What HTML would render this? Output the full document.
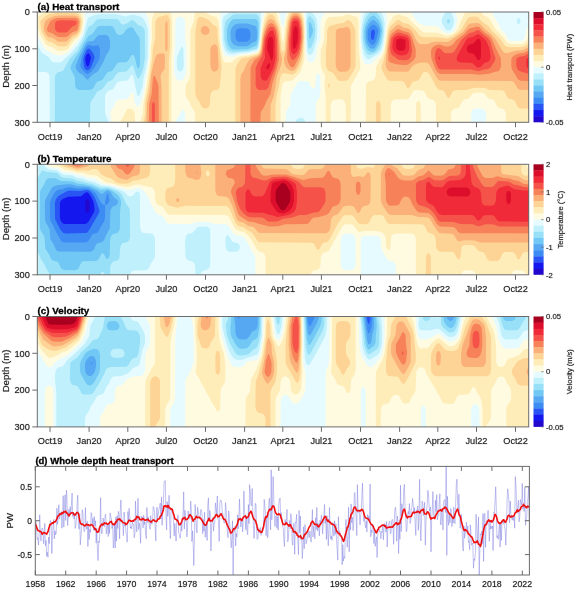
<!DOCTYPE html><html><head><meta charset="utf-8"><style>html,body{margin:0;padding:0;background:#fff;}svg{display:block;will-change:transform}</style></head><body><svg width="575" height="590" viewBox="0 0 575 590" font-family='"Liberation Sans", sans-serif'><rect width="575" height="590" fill="#fff"/><defs><clipPath id="clip_a"><rect x="37.3" y="12.0" width="491.4" height="110.3"/></clipPath><clipPath id="clip_b"><rect x="37.3" y="164.3" width="491.4" height="110.5"/></clipPath><clipPath id="clip_c"><rect x="37.3" y="316.5" width="491.4" height="110.4"/></clipPath></defs><g clip-path="url(#clip_a)"><rect x="37.3" y="12.0" width="491.4" height="110.3" fill="#FFFBE0"/><path fill="#E6FBFF" fill-rule="evenodd" d="M85 11l60 0 3.3 7.7 1.7 10.3 .1 9-.7 19-5.1 32.5-2 8.7-2 5.3-1 2.1-1 1-1-.1-1-.9-1.4-2.6-1.6-8.2-1-2-1 0-2.2 4.2-1.8 1.8-2 .5-6 .1-2 .7-1.5 1.9-1.6 4-2.9 4.2-.8 1.8-.1 2 1.1 9-75.2 0 0-88.6 4 6.3 3.3 6.3 2.7 3.1 8 4.5 3 .9 4 0 5-1.9 3.2-2.6 3.8-5.1 5-5.6 3.3-5.3 1.7-5 1.5-8 .2-11zM220.3 11l43.9 0-2.6 15-2 21-.5 2-1.2 2-1.6 1-7 1.7-8 .8-9 2.2-5-.4-2-.7-1-1-1.6-4.6-1.6-10-.8-29zM279.1 11l7.7 0-3.5 15.3-1-.2-1-2.6-2.2-12.5zM304.3 11l21.5 0-4 7-1 3-.4 18-3.1 9-1.8 10-1.4 3-.8 .8-2 .7-2-.3-1-.8-1-2-1.2-5.4-.5-6-.1-20-1.2-17zM360.7 11l25.1 0 .7 4 .4 6-2.6 22.2-1.2 6.8-.8 2-2 2.7-4.8 4.3-3.2 4.1-3 1.4-3-.2-2-1.2-1.6-3.1-1.2-5-1.4-16 .6-28zM410.7 11l45.3 0 1.2 9-1.9 8.1-1 2-2 1.8-3 1.3-2 .1-5.1-2.3-4.9-4.9-12-.4-2-.4-4-1.8-2.1-1.5-5.1-8-1.4-3zM491 11l38.3 0 0 15-1.5 1-1.1 2-2 9-1.1 2-2.3 .9-4 0-6 0-2.7-.9-3.1-6-4-4-10.5-19zM178.2 17l2.1-.3 2 .3 2 2 .7 2 .2 17 1.3 11 0 18-.8 7-1 3-1.4 2.2-1 1-2 .6-3-.8-1.4-2-1.2-4-.7-7 .1-10 1.1-10 .2-25 .9-3.3 1.9-1.7zM317 74l1.3-.3 1 .9 1 2.4 .2 16-.8 4-2.8 4-1.1 3-.2 19-30.1 0 .3-10 .6-2 3.7-6 .8-11 5.7-10 1.7-2.2 1-.6 3-.3 5 .3 2 1.5 2.6 5.3 1.4 .7 1-.7 1-2 .5-9 1.2-3zM473.9 109l2.4-.5 5 .1 2 .4 1 .7 1 1.5 .7 2.8 .1 9-15.1 0 .2-10 1.1-2.7 1.6-1.3zM181.2 111l1.1-.9 1 0 1.4 1.9 .5 3 0 8-9.9 0 1-3.3 3-4.3 1.9-4.4z"/><path fill="#BFF0FB" fill-rule="evenodd" d="M230 12l.6-1 29.7 0 .7 9-1.2 19-1 8-1.5 3-9 2.3-7 .5-9 1.4-4-.8-2.9-2.4-1.3-3-1.5-8-.2-19 .9-3.7 1-1.5 4-2.3 1.7-1.5zM282.9 11l.5 0-.1 .9-.4-.9zM307.1 12l.3-1 2.8 0 4.2 4 1.8 3 .9 5 .3 8-.7 9-3.4 11.8-1 1.7-2 1.3-1-.1-1-.8-1-2.5-.5-3.4-.7-27 .3-5 .7-4zM365.9 11l14.7 0 2.8 6 1.2 6-.3 11-1.2 9-1.5 6-1.3 2.2-3 3-7 4.4-2 .8-2.4-1.4-2.2-4-1.4-6.4-.9-7.6 0-10 .9-7.7 1.3-6.3 2.3-5zM446.1 11l4.7 0 3.4 9-.2 3-1.9 5-1.8 2-2 .6-1.8-.6-1.2-1.2-2.8-4.8-1.1-3 .8-3 3.9-7zM95.1 15l4.2-.7 17 0 9 2.2 6-1.8 2-.1 8 2.3 1 .5 2 2.5 2.8 6.1 1 5-.3 26-1.5 9.5-2.6 10.5-1 9-2.4 7.4-1 2-1 .9-1-.6-4-19-1-1.7-1 .1-2.4 3.9-1.6 1.5-9 1-2 2.1-3 5.3-1 .7-4 1-2.7 3.4-.6 3 0 15 .6 3 2.2 5 .7 3-58.7 0-.2-47-1.3-2.8-2-1.3-10-.2 0-27.9 2 2.3 3.6 6.9 6.4 3.7 4 5.2 3 .6 6-.3 4-4.2 4.9-4 8.1-9.4 3.8-6.6 1.7-4 3.5-14.1 1-2.2 1-.8 5.8-1.9zM517.3 19l1-.9 1 .2 1 1.2 .3 2.5-1.3 2.1-1 .1-1.2-1.2-.4-2 .6-2zM181.3 47l1-.2 1.1 2.2 .3 17-.4 2.3-1 2.2-2 1.1-2-.9-1-1.8-.5-2.9 0-7 .5-3.1 4-8.9zM298.9 118l2.4-.2 2 .7 1.3 1.5 .9 3-9.9 0 .9-3 .8-1.1 1.6-.9z"/><path fill="#98E0F8" fill-rule="evenodd" d="M371.1 11l4.3 0 4.8 6 2.3 6 .9 8-1.6 11-2.5 6.8-2 2.5-3 2.4-5 1.3-2-.9-.9-1.1-2.1-5.1-1.5-7.9-.1-9 .9-6 1.7-5.9 2-3.5 3.8-4.6zM232.6 15l2.7-.7 20 0 2 .6 1 1.1 1 2.8 .4 3.2-.5 15-.9 7.8-1 3.1-1 .9-9 2.1-14 1-3.7-.9-2.4-2-1.6-4-1.3-6 0-9 .6-6 .4-2 1.3-2 6-5zM308.2 17l1.1-.8 1 .3 3.3 3.5 1 3 .9 7-.8 7-1.4 5.5-2 4.6-1 1.4-1 .3-1-1.8-.9-8-.2-17 1-5zM99.1 19l17.2 .1 2.2 .9 2.8 3.9 2 .8 4-1.4 4-3 2-.3 5 5.2 3 .9 2 1.6 1.3 2.3 .3 2 .1 25-1.6 11-2.1 5.8-2 4.1-1 .6-1-.8-1-2.3-3-8.7-1-1.2-1 .2-3 4.1-2 1.6-8 .9-2 2-4 5.7-4 1.5-1 .7-5 7-5 2.2-3.8 6.6-2.3 3-.9 2.2-.4 19.8-35 0 0-44 .5-4 1.9-2.6 4-.8 2-1.2 6.2-11.4 7.8-8.3 6.6-11.7 4.4-11.8 1-1 3-1.4 4-4.8 2.8-1zM448.1 19l1.2 .3 .8 1.7-.7 2-1.1 .5-1-.8-.4-1.7 .4-1.3 .8-.7z"/><path fill="#72C8F4" fill-rule="evenodd" d="M371.6 16l1.7-.6 1 .2 4 3.8 2.4 4.6 1.4 6-1.3 9-1.9 6-3.2 5-1.4 1.2-2 .7-3-.6-2-2.2-2.1-5.1-1-6 .1-8 1.2-5 2.8-5.8 3.3-3.2zM234.7 19l19.6-.1 2 .4 1 .9 .9 2.8 .3 3-.1 11-.7 5-1.4 3.6-7 3-3 .6-12 .4-2-.4-2-1.3-2-3.6-1.3-4.3-.1-10 1.4-4.7 1.8-3.3 2.2-2.2 2.4-.8zM309.1 23l.2-.7 1-.1 1 1.7 1.9 6.1-.9 4.5-2 4.3-1-.4-.2-2.4-.3-6 .3-7zM99.1 26l10.2-.2 3 .5 1.7 1.7 2.3 5.2 1 1 2 .7 2-.1 1.7-.8 2.8-4 2.5-1.9 3-1 2 .8 3 5.4 2.7 3.7 .9 3 .1 23-.4 4-1.3 1.6-1-.8-2.6-10.8-1.4-2-1-.2-1 .7-3 5.1-2 1.6-7 .4-2 .7-5 7.5-5 1.7-5 7.5-4 1.2-2 1.4-2.3 4.4-1.7 2.2-3 .9-11-.2-2-1.4-1-2.1-.6-9.4-4.1-8 .1-3 3.7-7 4.9-6.9 4.7-9.1 4.3-6.9 4-2.1 5-7 1.8-1z"/><path fill="#56A8F2" fill-rule="evenodd" d="M373.1 20l2.2 .9 3 3.3 1.7 3.8 .5 3-1.2 7-1.3 4-2.7 5.1-1 1.2-2 .7-3-1.8-2.4-4.2-1-4-.1-7 .7-4 1.8-3.9 3-3.3 1.8-.8zM236.2 24l3.1-.5 8 .1 8 2.4 1 1 .9 4-.2 7-.7 2.8-1 .8-3 1.1-4 3-2 .6-8 0-4.1-1.3-1.9-2.1-1.5-2.9-.4-8 .4-2 1.5-3 2-2.1 1.9-.9zM100.7 35l5.6 .1 1.7 .9 .8 1 1.2 4 0 6-.5 3-3.2 5-2.5 6-5.5 9.8-2 1.8-4 2.2-4 4.4-1 .3-1-.5-3.5-4-3.5-2-2-1.9-1.6-3.1 0-2 3.5-9 5.1-10.6 2-3.3 2-1.5 5-.7 4-4.7 1-.7 2.4-.5z"/><path fill="#3C8CF4" fill-rule="evenodd" d="M371.9 25l1.4-.4 2.6 1.4 2.2 3 .4 2-2.2 9.6-2 3.4-1 .8-1 .2-2-1.4-1.3-1.6-1-2-.3-3 0-5 .6-2.8 1.4-2.2 2.2-2zM237.2 29l2.1-.7 6-.1 2 .2 2 1.3 1 2.3 .1 3-.1 3-1 2.1-2 1.4-2 .3-6-.1-2-.7-1.6-2-.3-3 .3-5 1.5-2zM88.3 45l5 1 4-.8 1 .5 1 1.4 .5 1.9 .1 7-.6 3-4.4 8-4.6 5.3-2 1.5-1 .1-2-.9-2.9-3-1.5-2-.6-2 1.4-9 3.7-9 1.4-2 1.5-1z"/><path fill="#2A55F5" fill-rule="evenodd" d="M372 30l1.3-.6 1 .5 .8 2.1-.9 6-.9 1.7-1 .2-1-1.1-.4-2.8 .1-4 1-2zM87.3 49l1-.5 1 .3 1.5 1.2 2.7 4 1 3-.2 2-3.2 8-1.8 2.6-2 1-2-1.3-1.4-2.3-.6-7 .7-4 2.3-5.6 1-1.4z"/><path fill="#1418EE" fill-rule="evenodd" d="M87 54l1.3-.7 1 .8 1.1 1.9 .5 2-1.6 6.3-1 1.9-1 .4-1.2-1.6-.9-6 .7-3 1.1-2z"/><path fill="#FEEDB8" fill-rule="evenodd" d="M45.1 11l34.4 0 1.8 2.4 1.4 3.6 .5 4-1.9 11-2.8 5-5.2 4.3-4.4 6.7-1.6 1.6-4 1.2-5 .1-2-.8-4-3.1-5-1.3-2-2.2-5.2-9.5-2.8-7.4-1-1.4 0-8.4 6-2.9 2.8-2.9zM155.3 11l14.7 0 1.7 6 .4 5 0 24-.7 14 .1 63-31.5 0 2.7-9 .8-11 3.2-17 3.9-27 .3-11 1.1-10-.3-18 .8-3 2.8-6zM195.2 12l.1-1 9.8 0 2.2 2.7 5 2.2 4 1.2 1 1.2 1 3.1 1 6.2 .4 12.4 2.6 17.6 1 3 1 1.3 2 .6 3 0 3-.6 2.8-2.9 3.5-2 3.7-1.1 6-.5 8-1.9 2.2-1.5 1.6-4 2.8-23 1.9-8 2.3-6 8.1 0 2.3 5 3.2 12 1.6 13.6 1 1.3 3-22.9 1.1-4 2-5 12.3 0 2.1 7 .9 11-.3 27-.4 5-2.7 9-1.6 3-7.4 7.4-8 1-1.8 2.6-1.9 12-.1 27-85.3 0 0-8-.4-3-3.5-5.5-2-4.9-3.2-4.6-.6-2-.3-4 .6-6 3.5-6 .8-3 .2-45 .8-3 2.2-5.3 1.9-10.7zM466.1 11l14.8 0 2.4 4.2 1 .8 3 .9 2 1.6 6.8 11.5 7 7 3.2 5 2 1.6 4 .6 9-.1 2-.3 3.1-2.8 2.9-5.5 0 87.5-23.2 0-.2-10-1.6-3.3-1-.7-5-1.3-1.3-1.7-2.7-5.5-1-.7-5-1.3-4-5.1-2-.8-4-.1-5 .6-1.2 .9-2.7 4-1.1 .8-4 .8-1.9 1.4-3.1 6.2-2 1.1-3 .5-1.8 1.2-1.1 2-.3 2-.1 9-15.1 0 0-17-.7-4-1.9-2.1-4-.8-1.7-1.1-2.9-6-1.4-1.3-5-.6-3 .2-2 1-3.4 5.7-1.6 1.7-2 .6-11 .1-2 .5-1 .9-1 1.9-.4 2.3-.1 18-25.1 0 .3-38 .9-2 1.4-1.5 5-1.2 1.8-2.3 .5-2 .5-9 3.6-7 2.8-4 1.8-5 3.5-25 1.5-3.2 3.6-5.8 2.4-1.7 3-.7 9 2.4 5.6 6 10.4 9.2 2 .4 12 .2 7 2.4 4 .6 5-2 3.2-2.8 1.2-2 4.1-10 4.3-8zM345.9 15l3.4-.3 7 2.1 1 .8 .7 1.4 .5 3 .2 25 1.7 20-.7 3-8.8 16-.2 37-5 0 0-17-.8-4-1.6-2-1-.4-4-.3-5 .6-1.9 2.1-.8 4 0 17-4.9 0 0-26-1.3-11 .8-9-.4-2-3.6-7-.6-4 .1-14 3.4-10 .2-10 .7-6 1.4-4 1.9-2.5 1-.6 12-.4 4.6-1.5zM417.8 101l.5-.3 1 .4 1.4 2.9 .1 19-4.9 0 .1-18 .3-2 1.5-2zM127.9 109l1.4-.4 2 .2 1.6 1.2 1.4 2 .7 3 .1 8-15 0 .9-3 2.8-4 2.1-5 2-2z"/><path fill="#FDD495" fill-rule="evenodd" d="M292.3 11l6.4 0 2.7 4 1.5 4 1 9 .1 8-1.2 19-1.2 6-1.8 5-2 4-2.5 2.9-2 1.3-2 .4-8-1.5-1.9 1.9-.9 2-1.7 10-1.8 7-1.4 10-.1 19-40.2 0 .1-53 .8-4 3.7-6 1.4-1.3 1.3-.7 5.7-.8 8-2.3 2-1 1-1.2 1.4-3.7 1.6-14.8 1.6-8.2 3.2-9 2.2-2.4 3 .1 2 1.6 4 8.6 1.6 6.1 1.4 17.2 1 3.3 1 .4 1-1.8 .4-2.1 1.4-17 1.4-10 1.8-5.4 3-4.6zM49.1 14l8.2-.9 18 0 3 .9 2 2.4 1 2.6 .4 3-1 7-.9 3-2.5 3.6-5.4 3.4-3.6 5.4-2 1.7-2 .3-6-.1-6-3.9-4-.9-2-1.8-3.9-6.7-1.4-4-.7-6 .2-2 1.6-2 4.2-3.6 2.8-1.4zM166.1 15l1.2 .2 1.5 1.8 1 3 .3 3 0 25-1.3 12-.1 63-24.9 0 1.2-9 .3-11 2.8-15 4.1-29 .7-11 2.2-9 .3-17 .9-2.5 2-2.3 7.8-2.2zM199.2 17l3.1-.1 6 2.7 5 5.5 3 1.5 1 2 .6 10.4 1.5 9 2.2 19-1.9 20-1.4 2.1-1 .6-4 .8-1.7 1.5-1.2 3-.6 10-1.5 2.5-3 1-2-.4-2-1.8-2-4.8-3.1-4.5-.9-4 0-61 1.9-12 1.1-2.3 .9-.7zM469.7 17l5.6-.4 3 .9 4.1 4.5 5.9 3.9 3.8 5.1 8.2 8 4 6.1 2 1.4 4 .8 12-.2 3-1.3 4-3.7 0 66.4-9-.1-2-.8-1.3-1.6-1.6-4-1.1-1.6-1-.6-5-1.3-1.2-1.5-2.2-5-1-1-1.6-.7-12-.3-6-1.9-5-.3-6 .2-7 2.1-11 .1-2 .7-1 1-2 4.4-1 1.3-1 .3-1.2-.9-2.8-5.6-2-1.1-3-.4-2-1.4-8-14.6-1-1.2-2-.8-2 .1-1.7 1-3.3 6.6-2 1.2-4 .8-1.4 1.4-2.6 4.6-1 .7-1.1-.3-2.5-5-1.4-1.5-2-.5-12-.3-2.3-1.7-5.1-9-.6-3 2-5.9 1.9-8.1 3.2-23 1.9-3.6 6-5.7 2-.9 1 .2 4 2.9 4 .8 2 .9 5.9 5.4 4.1 5.5 2 1.1 3 .6 13 .1 10 1.1 3-.8 3.2-1.6 6.3-5 1.7-2 5.8-9.9 2.4-2.1zM347.6 20l1.7 .2 1.8 1.8 3.2 5 1.1 3 .2 36-1.5 4-5.8 9.7-2 1.1-6 .1-2-.5-1-.8-4-6.6-5-2.2-2.3-3.8-.3-16 1.3-10 .2-10 .8-3 1.3-1.7 8-2.5 6-.8 4.3-3zM328.2 84l1.1-.4 .6 1.4-.6 2.4-1.1-.4 0-3zM377.6 101l.7-.3 1 .5 1.3 2.8 .1 19-4.9 0 .1-18 .4-2.2 1.3-1.8z"/><path fill="#FBB07A" fill-rule="evenodd" d="M292.8 14l1.5-.7 3 .1 2 1.5 1.9 3.1 .9 3 .6 4 .5 13-1.2 13-2.1 9-3.7 8-1.9 2.2-2 .9-3.4-1.1-3.2-3-1.1-3-.8-5 2-8 1.3-18 1.5-11 1.7-4.9 2.5-3.1zM54.6 16l3.7-.5 14-.1 5 .6 2 2.2 1 2.8-.7 7-1.3 3.8-2 2-4 1.6-5 5.5-2 .9-7-.1-6-3.9-4-.9-2-1.9-2.2-4-.3-3 .7-5 .9-2 2.9-2.6 6.3-2.4zM268.4 20l1.9-1 2 .4 1 .7 2.7 3.9 1.8 4 1.1 6 1.3 17 1.9 8-1.2 7-3.8 10-3.3 20-3.2 9-.2 18-30 0 0-44 .5-4 3.4-5.2 2.3-5.8 2.7-4 2.6-2 6.4-2.5 2-2.5 1.1-4 1.2-11 1.3-7 2.4-7.3 2.1-3.7zM165.7 22l.6-.8 1 .5 .3 2.3 0 23-.3 2.7-1 1.7-.7-.4-.3-2.7 0-23.9 .4-2.4zM476.1 23l2.2 .1 2 1.1 5 5 6 5.1 4.8 5.7 6.2 10.6 2 2.2 3 .4 7-2.3 9-.9 6-3.4 0 43.5-10-.3-2-1.7-3-5.3-1-1-2-.8-71-.2-2-1.1-2-2.6-7-12.5-1-1.1-2-.9-7 .2-5 2-2.7 2.2-2.3 3.4-1 .8-2 .5-16-.1-2-.9-1.9-2.7-.6-3 .1-7 3-23 1.5-4 6.9-6.2 2 0 4 2.7 4 .7 2 .9 2.9 2.9 4.1 8.2 2 2.8 2 1 5 .2 2-.2 5-1.8 4-.8 10 .5 3-.7 13.6-9.2 5.4-7.6 2-.8 5.8-.6zM204 26l1.3-.1 2 .6 2 2.6 .2 2.9-1.2 2-1 .6-2 .3-2-.3-1-.6-1.3-2-.3-2 .6-2 1-1.2 1.7-.8zM342.9 28l4.4-1 1 .3 1.4 1.7 .9 3 0 34-.6 2-1.7 2.5-1 .8-2 .4-5 0-2-.9-2-2.8-.6-3 .1-33 .7-2 1-1 1.8-.7 3.6-.3zM212.6 45l1.7-.7 2 .8 1 2 .5 2.9 .8 17-1.3 3.6-2 1-2-.2-1-.7-1.2-1.7-.7-3-.1-16 .7-3 1.6-2zM157.7 54l1.6-.5 5 0 .7 2.5-.3 12-.8 2-2.6 3.6-.7 2.4 1 11 .1 36-15.3 0 .6-19 2.5-13 1.8-17.3 2-9.3 2-6.6 1-2.4 1.4-1.4z"/><path fill="#F7825A" fill-rule="evenodd" d="M293.5 16l1.8-.5 2 .3 2 1.7 1.3 2.5 1.4 9 .2 9-1.1 11-1.8 7.3-4.9 9.7-1.1 1.2-1 .2-2-1.2-1.4-2.2-1.5-4-.3-3 .7-18 1.9-16 1.6-4.7 2.2-2.3zM57 18l17.3-.2 3 .7 1.1 1.5 .5 2-.6 4.6-1 3.3-1 1.1-4 1.3-5 4.1-2 .8-7-.1-2-1-4-2.9-4-1.1-1.1-1.1-.3-2 .4-1.7 2.6-5.3 2.4-2.2 4.7-1.8zM268.8 24l2.5-.9 2 .8 2 2.6 1.5 3.5 1.5 10 .6 20-2 9-4.6 15-1.8 10-4 7-2.2 5.6-3.4 5.4-.4 3-.1 8-10 0 .1-55 1.1-3 2.9-5 4.8-3.4 1.8-2.6 .8-3 1.4-12 1-4.8 2.1-6.2 2.4-4zM475.4 27l1.9-.6 2 .5 4.8 5.1 5.2 3.8 2.6 3.2 3.4 8.1 5.5 10.9 .3 8-1.3 4-1.5 1.3-4 .7-5 1.8-10 .9-8-.6-30-.1-3-.8-2.9-4.2-4.2-11-.3-7 1-3 2.3-2 3.1-1.3 2-.1 6 1.8 3 0 3-.9 2-1.6 3-3.9 8-5.9 4-4.8 2-1.1 5.1-1.2zM396.1 30l1.2-.7 2-.1 3.5 1.8 5.5 1.3 2 1.8 1.9 3.9 3.5 11 0 8-1.9 3-5.5 4.4-3 .5-8-.4-7-2.1-1-.7-1-2-.1-10.7 1.5-11 1.8-4 4.6-4zM527.7 51l1.6-.6 0 30.5-9-.2-2-1.2-1-1.3-5.5-9.2-.6-3 .1-7 1-2 3-2.3 3-1.1 5-.5 4.4-2.1zM153.7 76l.6-.4 1 1.7 2.5 5.7 .7 3 .3 37-9.9 0 .2-19 2.5-10 1.3-15 .4-2.7 .4-.3z"/><path fill="#F5524A" fill-rule="evenodd" d="M294.4 18l2.9 .2 1 .8 1.2 2 1.5 9 .1 8-1.2 10-1.3 5-2.3 4.1-3 2.9-1 0-1-1-1.7-4-.6-6 0-8 1-11 1.2-8 1.1-2.4 2.1-1.6zM56.6 21l3.7-.7 14 .2 2 .5 .4 2-.4 1.3-1 1.1-3 1-5 5.6-2 .6-6 0-2-.6-1-.8-1.3-2.2 0-6 1.6-2zM270.2 27l2.1-.3 1 .6 1.8 2.7 .8 3 1.1 8 .2 15-.3 4-2 9-3.3 8-3.3 10.6-2 2.2-7 .2-2-1-.8-1-.9-3 0-17 2.1-5 4.4-7 2.5-18 2.7-7.4 1-1.9 1.9-1.7zM477.2 30l2.1 .4 4 4.2 4.8 3.4 2.2 3.6 3 10.3 2.3 6.1-.7 3-4.6 6.8-2 1.3-4 .5-6 1.7-7-1.8-30-.1-2-.4-1-.8-1.6-3.2-1.9-7 .5-6 1.3-3 1.7-.9 1 .2 1.3 .7 2.7 3.1 2 1.1 7-.2 2-1.6 6.9-11.4 7.1-6.2 2-1 3-.6 3.9-2.2zM396.7 33l2.6-.4 7 1.9 2 1 1.8 2.5 .9 3 1 10-1.1 6-2.6 2.7-3 .5-7-.4-6.2-4.8-1.4-2-.7-5 1.2-9 2.1-3.6 3.4-2.4zM527.8 54l1.5-.5 0 20.5-10-2.9-2-2.2-1.1-3.9 .1-5 .8-2 2.2-1.2 5-.9 3.5-1.9zM152.5 103l.8-.9 1 .5 .6 2.4 0 18-3 0 0-17 .6-3z"/><path fill="#F02A38" fill-rule="evenodd" d="M293.8 21l2.5-.5 1 .4 1 1.6 1.4 7.5 .1 8-.5 5-1.6 7-2.4 3.4-2 .8-1.3-1.2-1.1-3-.3-9 .9-12 1.1-6 1.2-2zM270.3 31l2-.6 1 .9 1.8 6.7 .2 20-1.6 8-1.4 3.8-5 9.9-1 .8-2 .3-2-1-1.5-2.8-.2-9 4.4-10-.3-9 1.2-10 2.4-5.6 2-2.4zM476.1 35l1.2-.8 2 .3 5.3 4.5 1.7 2 3 7.2 1.3 8.8-.3 2-2 2.7-4 1.4-3.7 3.9-2.3 .8-1.8-.8-4.2-4.1-13-.6-1.8-1.3-.9-2 .6-3 9-16 2.1-1.9 5-1.3 2.8-1.8zM396.9 36l2.4-.6 4 .8 3 1 2 1.8 .8 3 .2 7-1 3.4-2 2.2-4 1-4-.5-3-2.2-2.4-2.9-.6-3 .7-7 1.3-2.3 2.6-1.7zM438.4 57l.9-.4 .8 1.4-.1 1-.7 .8-1-1.2 .1-1.6zM528.5 57l.8-.3 0 12.6-2-1.3-1.1-3 .3-6 2-2z"/><path fill="#DC0E2C" fill-rule="evenodd" d="M294.4 27l.9-.7 1 .2 1 1.6 .6 2.9 .1 5-.7 6.5-2 5.4-1 .9-1-.5-.3-1.3-.3-7 .4-9 1.3-4zM270 37l1.3-.3 1 .6 1 3.7-.2 15-.8 3.4-1 1.1-3.6-9.5-.6-3 .7-8 .5-1.3 1.7-1.7zM397.8 39l2.5-.5 3 .5 1.6 1 .6 1 0 7-1.2 2-1 .6-4 .2-2-1.2-1-1.4-.3-6.2 .6-2 1.2-1zM477.5 39l1.8 0 1 .9 .7 3.1-.1 14-.8 2-.8 1-1 .3-1-.8-3-4.9-2-1.1-3-.4-1.6-1.1-1.1-3 .6-2 1.1-1.5 2-1.2 3-.6 4.2-4.7zM268.1 64l1.2-.7 .7 .7 0 2-.7 2-1 1.2-1 .4-1-1.2-.1-1.4 1.9-3z"/></g><rect x="37.3" y="12.0" width="491.4" height="110.3" fill="none" stroke="#6b6b6b" stroke-width="1"/><line x1="32.3" y1="12.0" x2="37.3" y2="12.0" stroke="#6b6b6b" stroke-width="1"/><text x="29.8" y="15.3" font-size="9.2" text-anchor="end" fill="#1a1a1a" stroke="#1a1a1a" stroke-opacity="0.3" stroke-width="0.6" transform="matrix(1 0 0 1.020 0 -0.31)">0</text><line x1="32.3" y1="48.8" x2="37.3" y2="48.8" stroke="#6b6b6b" stroke-width="1"/><text x="29.8" y="52.1" font-size="9.2" text-anchor="end" fill="#1a1a1a" stroke="#1a1a1a" stroke-opacity="0.3" stroke-width="0.6" transform="matrix(1 0 0 1.020 0 -1.04)">100</text><line x1="32.3" y1="85.5" x2="37.3" y2="85.5" stroke="#6b6b6b" stroke-width="1"/><text x="29.8" y="88.8" font-size="9.2" text-anchor="end" fill="#1a1a1a" stroke="#1a1a1a" stroke-opacity="0.3" stroke-width="0.6" transform="matrix(1 0 0 1.020 0 -1.78)">200</text><line x1="32.3" y1="122.3" x2="37.3" y2="122.3" stroke="#6b6b6b" stroke-width="1"/><text x="29.8" y="125.6" font-size="9.2" text-anchor="end" fill="#1a1a1a" stroke="#1a1a1a" stroke-opacity="0.3" stroke-width="0.6" transform="matrix(1 0 0 1.020 0 -2.51)">300</text><line x1="50.0" y1="122.3" x2="50.0" y2="127.3" stroke="#6b6b6b" stroke-width="1"/><text x="50.0" y="139.8" font-size="9.2" text-anchor="middle" fill="#1a1a1a" stroke="#1a1a1a" stroke-opacity="0.3" stroke-width="0.6" transform="matrix(1 0 0 1.020 0 -2.80)">Oct19</text><line x1="89.1" y1="122.3" x2="89.1" y2="127.3" stroke="#6b6b6b" stroke-width="1"/><text x="89.1" y="139.8" font-size="9.2" text-anchor="middle" fill="#1a1a1a" stroke="#1a1a1a" stroke-opacity="0.3" stroke-width="0.6" transform="matrix(1 0 0 1.020 0 -2.80)">Jan20</text><line x1="127.8" y1="122.3" x2="127.8" y2="127.3" stroke="#6b6b6b" stroke-width="1"/><text x="127.8" y="139.8" font-size="9.2" text-anchor="middle" fill="#1a1a1a" stroke="#1a1a1a" stroke-opacity="0.3" stroke-width="0.6" transform="matrix(1 0 0 1.020 0 -2.80)">Apr20</text><line x1="166.4" y1="122.3" x2="166.4" y2="127.3" stroke="#6b6b6b" stroke-width="1"/><text x="166.4" y="139.8" font-size="9.2" text-anchor="middle" fill="#1a1a1a" stroke="#1a1a1a" stroke-opacity="0.3" stroke-width="0.6" transform="matrix(1 0 0 1.020 0 -2.80)">Jul20</text><line x1="205.5" y1="122.3" x2="205.5" y2="127.3" stroke="#6b6b6b" stroke-width="1"/><text x="205.5" y="139.8" font-size="9.2" text-anchor="middle" fill="#1a1a1a" stroke="#1a1a1a" stroke-opacity="0.3" stroke-width="0.6" transform="matrix(1 0 0 1.020 0 -2.80)">Oct20</text><line x1="244.6" y1="122.3" x2="244.6" y2="127.3" stroke="#6b6b6b" stroke-width="1"/><text x="244.6" y="139.8" font-size="9.2" text-anchor="middle" fill="#1a1a1a" stroke="#1a1a1a" stroke-opacity="0.3" stroke-width="0.6" transform="matrix(1 0 0 1.020 0 -2.80)">Jan21</text><line x1="282.8" y1="122.3" x2="282.8" y2="127.3" stroke="#6b6b6b" stroke-width="1"/><text x="282.8" y="139.8" font-size="9.2" text-anchor="middle" fill="#1a1a1a" stroke="#1a1a1a" stroke-opacity="0.3" stroke-width="0.6" transform="matrix(1 0 0 1.020 0 -2.80)">Apr21</text><line x1="321.4" y1="122.3" x2="321.4" y2="127.3" stroke="#6b6b6b" stroke-width="1"/><text x="321.4" y="139.8" font-size="9.2" text-anchor="middle" fill="#1a1a1a" stroke="#1a1a1a" stroke-opacity="0.3" stroke-width="0.6" transform="matrix(1 0 0 1.020 0 -2.80)">Jul21</text><line x1="360.5" y1="122.3" x2="360.5" y2="127.3" stroke="#6b6b6b" stroke-width="1"/><text x="360.5" y="139.8" font-size="9.2" text-anchor="middle" fill="#1a1a1a" stroke="#1a1a1a" stroke-opacity="0.3" stroke-width="0.6" transform="matrix(1 0 0 1.020 0 -2.80)">Oct21</text><line x1="399.6" y1="122.3" x2="399.6" y2="127.3" stroke="#6b6b6b" stroke-width="1"/><text x="399.6" y="139.8" font-size="9.2" text-anchor="middle" fill="#1a1a1a" stroke="#1a1a1a" stroke-opacity="0.3" stroke-width="0.6" transform="matrix(1 0 0 1.020 0 -2.80)">Jan22</text><line x1="437.8" y1="122.3" x2="437.8" y2="127.3" stroke="#6b6b6b" stroke-width="1"/><text x="437.8" y="139.8" font-size="9.2" text-anchor="middle" fill="#1a1a1a" stroke="#1a1a1a" stroke-opacity="0.3" stroke-width="0.6" transform="matrix(1 0 0 1.020 0 -2.80)">Apr22</text><line x1="476.5" y1="122.3" x2="476.5" y2="127.3" stroke="#6b6b6b" stroke-width="1"/><text x="476.5" y="139.8" font-size="9.2" text-anchor="middle" fill="#1a1a1a" stroke="#1a1a1a" stroke-opacity="0.3" stroke-width="0.6" transform="matrix(1 0 0 1.020 0 -2.80)">Jul22</text><line x1="515.5" y1="122.3" x2="515.5" y2="127.3" stroke="#6b6b6b" stroke-width="1"/><text x="515.5" y="139.8" font-size="9.2" text-anchor="middle" fill="#1a1a1a" stroke="#1a1a1a" stroke-opacity="0.3" stroke-width="0.6" transform="matrix(1 0 0 1.020 0 -2.80)">Oct22</text><text x="8.7" y="66.5" font-size="9.6" text-anchor="middle" fill="#1a1a1a" stroke="#1a1a1a" stroke-opacity="0.3" stroke-width="0.6" transform="rotate(-90 8.7 66.5)">Depth (m)</text><text x="37.6" y="9.8" font-size="9.8" font-weight="bold" fill="#000" stroke="#000" stroke-width="0.3">(a) Heat transport</text><rect x="533.5" y="12.00" width="10.1" height="6.43" fill="#A8001E"/><rect x="533.5" y="18.13" width="10.1" height="6.43" fill="#DC0E2C"/><rect x="533.5" y="24.26" width="10.1" height="6.43" fill="#F02A38"/><rect x="533.5" y="30.38" width="10.1" height="6.43" fill="#F5524A"/><rect x="533.5" y="36.51" width="10.1" height="6.43" fill="#F7825A"/><rect x="533.5" y="42.64" width="10.1" height="6.43" fill="#FBB07A"/><rect x="533.5" y="48.77" width="10.1" height="6.43" fill="#FDD495"/><rect x="533.5" y="54.89" width="10.1" height="6.43" fill="#FEEDB8"/><rect x="533.5" y="61.02" width="10.1" height="6.43" fill="#FFFBE0"/><rect x="533.5" y="67.15" width="10.1" height="6.43" fill="#E6FBFF"/><rect x="533.5" y="73.28" width="10.1" height="6.43" fill="#BFF0FB"/><rect x="533.5" y="79.41" width="10.1" height="6.43" fill="#98E0F8"/><rect x="533.5" y="85.53" width="10.1" height="6.43" fill="#72C8F4"/><rect x="533.5" y="91.66" width="10.1" height="6.43" fill="#56A8F2"/><rect x="533.5" y="97.79" width="10.1" height="6.43" fill="#3C8CF4"/><rect x="533.5" y="103.92" width="10.1" height="6.43" fill="#2A55F5"/><rect x="533.5" y="110.04" width="10.1" height="6.43" fill="#1418EE"/><rect x="533.5" y="116.17" width="10.1" height="6.13" fill="#2208CF"/><line x1="541.1" y1="12.0" x2="543.6" y2="12.0" stroke="#6b6b6b" stroke-width="0.7"/><text x="546.0" y="14.8" font-size="7.7" fill="#1a1a1a" stroke="#1a1a1a" stroke-opacity="0.3" stroke-width="0.6" transform="matrix(1 0 0 1.020 0 -0.30)">0.05</text><line x1="541.1" y1="67.2" x2="543.6" y2="67.2" stroke="#6b6b6b" stroke-width="0.7"/><text x="546.0" y="70.0" font-size="7.7" fill="#1a1a1a" stroke="#1a1a1a" stroke-opacity="0.3" stroke-width="0.6" transform="matrix(1 0 0 1.020 0 -1.40)">0</text><line x1="541.1" y1="122.3" x2="543.6" y2="122.3" stroke="#6b6b6b" stroke-width="0.7"/><text x="546.0" y="125.1" font-size="7.7" fill="#1a1a1a" stroke="#1a1a1a" stroke-opacity="0.3" stroke-width="0.6" transform="matrix(1 0 0 1.020 0 -2.50)">-0.05</text><text x="572.3" y="67.2" font-size="7.5" text-anchor="middle" fill="#1a1a1a" stroke="#1a1a1a" stroke-opacity="0.3" stroke-width="0.6" transform="rotate(-90 572.3 67.2)">Heat transport (PW)</text><g clip-path="url(#clip_b)"><rect x="37.3" y="164.3" width="491.4" height="110.5" fill="#FFFBE0"/><path fill="#E6FBFF" fill-rule="evenodd" d="M36.3 163.3l9.7 0 1.1 2 1.4 1 2.8 1.1 6 .7 6 3.8 9 1 5 1.9 5 .6 5 2.3 6 .8 3 1.2 3.7 2.6 3.3 1.6 9 1.6 15 4.5 4-.2 6-2.1 3 .7 4 2.9 4.6 7 2.4 6 5 8.7 2 1.6 4 1.2 2 2.5 2 3.9 2 1.6 22 .3 7-2 8-.3 4 .5 5 1.7 11 .2 2 .6 2 2.3 3.1 5.2 1.9 2 3 1.1 5 .7 1.9 1.2 5.1 8.1 2.3 4.9 3 5 .7 2 .1 18-219.1 0 0-112zM343.4 234.3l2.9-.9 6 .4 2 2 1.2 2.5 .2 26-1.2 4-2.2 1.7-8 0-2-1.2-1.3-2.5-.3-4 .1-23 .5-2 2.1-3zM363 236.3l2.3-.5 11 0 2 .4 1.4 1.1 .9 2 .6 9 5.3 10 1.8 2.1 5 1.2 2 2.7 .5 3 0 8-35.1 0 0-35 .4-2 1.9-2z"/><path fill="#BFF0FB" fill-rule="evenodd" d="M40.1 163.3l2.9 0 1.6 3 2.7 2.4 3 1 7 .8 6 4.3 9 .6 5 2.3 5 .7 5 2.3 6 1 8 3.8 9 1.1 10.8 3.7 3.6 2 2.6 2.9 2 1.2 3-.4 4-4.2 1-.3 2 .8 .7 3 .1 31 .6 4 1.4 2 1.2 .7 9 .8 1.6 1.5 1.1 3 0 18-.7 2.2-3 4.3-3 6.2-1 .7-2 .5-12 .3-2 1.6-1.2 3.2-93.8 0 0-106 2-2.4 1.8-3.6zM197.2 227.3l3.1-.8 7 .3 2.1 1.5 .9 3 0 31-.4 4-1.8 3-5.8 1.9-1.5 2.1-.5 2-5 0-.1-9-.9-3-2-1.9-5-1.4-1.3-1.7-.7-3-.1-15 .7-4 1.4-2 1-.6 3-.5 2-.9 3.9-5zM227.2 235.3l1.1 .2 1 1.1 3 4.9 1.5 .8 3.5 .6 1.7 1.4 1 3-.5 2-1.2 1.5-2 .9-6 0-2-.3-1.4-1.1-1.3-3-.2-7 .4-3 .5-1.2 .9-.8z"/><path fill="#98E0F8" fill-rule="evenodd" d="M41.4 171.3l.9-.7 1 .1 4 1.3 9 .8 1.2 .5 2.8 3 2 1.4 10 .7 5 2.4 5 .6 5 1.7 5 .9 9 3.8 6-.2 2 .3 9 3.7 3.3 2.7 4.7 9.7 3 4.3 .6 2 .1 27-.7 2.5-1 1.6-1.6 .9-4.3 1-1.6 2-.7 3-.5 9-1.3 2.4-1 .8-4 1-2.4 2.8-.8 3-.1 8-5.1 0-.6-2.1-1-1.3-1-.3-1 .7-1.2 3-50.4 0-.9-3-2.8-4-2.1-5-2.8-4-2.6-6-2.2-1.7 0-73.3 2-1.4 3.1-5.6z"/><path fill="#72C8F4" fill-rule="evenodd" d="M48.5 178.3l6.8-.1 6 2.7 11 .6 5 2 5 .5 9 1.8 10 4.3 7-1 4.6 2.2 5.4 4.1 2.3 3.9 .6 3-1.1 9-.2 17-.5 2-1.1 1.8-1 .8-4 1-1.5 1.4-1.2 2-.5 3-.3 15-1.5 3.3-1 .5-1-.3-2.3-4.5-.7-.8-1-.3-1 .6-2.1 4.5-1.9 2.2-2 .4-12.2 .4-1.8 1.3-3 6.2-2 1.2-2 .2-10-.1-2-.6-1.2-1.2-2.9-6-1.9-1.1-3-.4-2-1.3-2.3-5.2-3.7-5.9-.8-11.1-1.2-2.7-2.4-3.3-1-4 .1-35 .9-3 2.9-4 2.1-5 1.4-1.6 1.2-.4z"/><path fill="#56A8F2" fill-rule="evenodd" d="M67.8 184.3l4.5 .2 5 1.5 9 .5 3 .6 7 3.2 5 3.4 1 .2 4-3.1 2 0 2.4 1.5 2.6 4.4 4.3 3.6 .3 2-.6 1.9-1 1-3 1.1-1 .8-1.9 3.2-.6 18-3.8 7-1.7 4.4-2 2.4-5 1.2-1.6 2-1.6 4-1.9 2-2.9 .5-31-.2-2-1.4-2.7-5.9-3.2-5-.8-10-3.8-7-.8-3-.2-16 .7-4 5.8-10.8 2-1.9 4-1.4 10.5-.9z"/><path fill="#3C8CF4" fill-rule="evenodd" d="M64.7 188.3l2.6-.8 3-.2 7 1.1 9-.2 3 .7 4.1 2.4 2.4 2 5.5 9.7 2 1.8 1.9 .5-.3 13-.6 3-3.3 5-2.7 5.8-1 .7-4 1.1-1 .7-3.3 5.7-1.7 1.7-3 .6-18 0-4-.7-1.5-1.6-4.5-8-5.9-12-.5-3 0-14 1-4 3.4-6.3 2-2.3 2-.9 4-.5 2.4-1zM106.8 194.3l.5-.6 1 .6 1.1 5 0 2-2.1 3.1-2 .9-.1-4 1.6-7z"/><path fill="#2A55F5" fill-rule="evenodd" d="M84.3 190.3l3-.2 2 .7 1.8 1.5 2.9 4 1.5 3 3.7 10 .3 2-.6 2-9.6 16.5-2 2.6-1 .6-20 .4-3-.5-3-3.4-5.2-10.2-.2-16 1-4 2.4-3.3 9-5.1 3-.4 10 .5 4-.7z"/><path fill="#1418EE" fill-rule="evenodd" d="M84.5 193.3l1.8-1 1 0 2 1.7 4 7 1.2 7.3 0 2-.6 2-5.6 9.8-2 1.7-2 .3-19 0-2-.4-1-.7-1.8-2.7-.6-3 0-14 1.1-3 2.3-1.5 5-2.1 13-.5 3.2-2.9z"/><path fill="#2208CF" fill-rule="evenodd" d="M86.6 199.3l.7-.3 1 .6 1.1 1.7 .4 2-.3 7-1.2 2.2-1 .6-1-.3-.9-1.5-.4-3 .1-6 .7-2 .8-1z"/><path fill="#FEEDB8" fill-rule="evenodd" d="M49.5 163.3l476.6 0 1.2 3.7 2 1.7 0 106.6-3.2 0-.8-2.7-2-2-5-.4-3 .1-2 .8-1.6 2.2-.5 2-35.2 0-1-3-1.7-1.6-5-.5-3 .1-2 .7-1.2 1.3-1 3-45.2 0-.1-36-.6-3-1.9-2.4-3-.5-13 0-4 .6-1.3 1.3-.9 2-.8 10.9-1 1.6-1 .2-1.6-1.7-.7-2-.2-7-.6-3-1.1-2-1.8-1.7-3-1.2-3-.4-12 .1-5 1-1-.1-5-6.7-2-1-3-.1-4 .3-2 1.7-13 23.9-2 1.4-4 1.2-1.9 2.6-.7 3-.2 7-1.1 3-2.1 1.6-3 .5-1.8 .9-1.2 1.7-.6 2.3-45.2 0-.1-17-.2-2-.9-2.5-1.6-1.5-3.4-.8-2-1.5-6.8-11.7-2.9-3-4.3-3.5-5-1-2.4-1.5-2.2-3-4.4-8.4-2-2.3-3-.6-55-.3-2-1.2-5-6.9-4-1.5-2-2.2-1-2.6-.5-9-.9-2-1.6-1.5-13-3.4-5 .3-5 2-2 .3-10-1.8-5-1.7-6.4-1.2-9.6-6.7-8-.8-5-1.9-6-.5-5-1.5-8-1.5-6-3.3-6-1-1.9-.8-.9-1z"/><path fill="#FDD495" fill-rule="evenodd" d="M59.4 163.3l90.7 0 0 9-.8 3.2-2 2.1-4 .8-5 1.7-5 .6-6 3.1-8-.4-3.5-1.1-4.5-3.9-4-.9-4.8-2.2-2.1-2-2.1-3.1-2-1.1-3 0-5 1.7-5-.6-6 .2-13-3.7-2.5-1.4-2.4-2zM175.2 163.3l115.2 0 .9 2.2 2 2.5 2 .8 3 .1 4-.5 2-2.1 1.4-3 50 0 .6 2.6 1 1.6 1 .8 2 .5 2-.1 5-1.7 6 .8 1.6-1.5 .9-3 24.9 0 .8 2 1.8 2.5 2 1 3 .1 3-.1 2-.9 1.9-2.6 .8-2 105.1 0 .1 8 .6 2 2.5 2.1 5 .4 0 76-4 .1-2 .8-1.3 1.6-1.7 4-1 1-1 .2-1.2-1.2-1.8-4.1-2-2-3-.4-6 .3-2 1.6-2 4.7-2 2.1-2 .4-6 0-2-.7-1-1.1-3-6.1-1-.7-5-1.3-4-5.2-3-.8-6 0-2 .5-1.8 1.8-1 10-1.2 2-1 .2-1-.6-2.1-4.6-1.9-2-2-.5-11-.1-2-.6-.8-.8-1.4-3-.3-8-1-3-2.5-2.6-3-.6-1.4-.8-1.4-2-1.7-4-1.5-1.6-3-.5-31-.2-2-1.3-4-6.7-1-.7-2-.3-5 0-2 .5-1.6 1.8-2.4 5.3-2 1.3-3 .3-4-.1-2-.9-4-5.9-2-1.9-3-.5-5 .4-2 1.7-4.7 7.3-8.3 15.8-2 2-4 1-1 .7-3 5.1-1 .9-1 0-1-1.1-2-4.4-1-1-2-.6-52-.4-2-1.5-4-6.4-2-2.1-4-2.1-4-3-4-.9-2-1-2.1-3-4.9-11.9-2-3.1-2-1.3-41-.2-8 1.9-8-2.2-2-1.3-2-3.9 0-8 .5-2 1.5-2.1 5-1.3 1-.7 1.2-1.9 .7-4 0-17zM207.3 170.5l-1.3 1.8-.1 2 1.2 2 1.2 .2 1.1-1.2 .2-3-1.3-1.8-1 0zM428.1 253.3l1.2 .3 .6 .7 .9 3 .1 18-5 0 .1-18 .9-3 1.2-1z"/><path fill="#FBB07A" fill-rule="evenodd" d="M64.5 163.3l25.7 0-1.2 2-1.7 1.2-9 2.1-2-.2-8-2.6-2.9-1.5-.9-1zM109.9 163.3l30.2 0-.2 9-1.6 2.6-6 1.6-5 3.2-2 0-6-1.7-2-1.2-1-1.3-5.2-8.2-1.2-4zM185.2 163.3l15 0 1.3 10-.9 4-1.3 1.9-1 .6-2 .1-4-1.4-4-.8-1.8-1.4-1.2-4-.1-9zM215.3 163.3l45 0 2 3.8 2 1.5 22 .5 2 1.2 3 3 2 1 9 1 2.3-1 2.7-3.4 2-1.7 11-.3 2-.5 2-2 1.5-3.1 24.9 0 .2 10 1.4 3.2 2 .5 4-.9 5 .9 1-.6 3-3.8 1-.3 1 .4 1 1.3 .4 3.3-.2 24-.7 2-1.5 1.8-4 .8-2 1.2-2.6 5.2-1.4 .8-1-.6-3-5.2-1.2-1-1.8-.5-5 0-3 .9-5 7-1 .8-3 .8-2.2 2-1.3 3-.3 7-.4 2-1.8 2.8-2 1.1-67-.1-2-1.5-2.5-3.3-1.5-1.2-5-1-5-3.5-4-1-1.8-1.3-1.2-2.4-4-12.5-4-7.3-2-1.3-8-.7-2-1.8-1-4 0-27zM386 163.3l4.5 0 1.8 2.2 5 2.8 5 6.4 2 .9 4 .2 4-.2 2-1 4-4.5 5-2.2 2-2.6 .7-2 75.1 0 .1 8 .7 2 1.3 1 14.1 1.6 2 .8 5 3.4 5 .3 0 62.2-48 0-2-.3-5-1.8-3-.2-7 0-6 1.1-1.3-1.1-2.7-4.9-2-1.7-11-.4-2-.4-1-.8-4.2-5.8-3.8-6.7-2-1.8-2-.5-8-.2-7-2.1-20-.1-2-.3-2-1.9-4.7-7.4-1.3-2.7-.5-2.3 .1-27 1-3 4.1-7zM177.1 198.3l1.2-.1 .9 1.1 .1 1.4-1 1.3-1 .1-1-.8-.1-2 .9-1z"/><path fill="#F7825A" fill-rule="evenodd" d="M69.4 163.3l15.9 0-2.6 2-3.4 1.2-2 .2-4.6-1.4-3.3-2zM114.9 163.3l20.2 0-1.2 4-2.5 4-2.1 2.5-2 .9-2-1.2-3-3.7-4-1.4-1-.8-1.6-2.3-.8-2zM235.3 164.3l.1-1 20 0 .7 3 1.6 3 3.6 4.9 2 1.3 3 .2 7-1.2 13-.1 17 5.5 7-1.7 12-.4 2-1.4 3-5.1 1-.6 1 .4 3 5.7 2 1.1 4 .9 1.8 2.5 .6 4 0 13-.4 3-1 2-2 2-3 .6-2 1.1-3 5.4-2 2-8 2.5-6 .8-2 1.5-2 3.2-2 1.5-22 .3-7 2.1-9 .1-11-2.6-4-1.5-6-.8-8.1-5.2-1.9-2-5-15.8-2.4-6.2 .4-3 3.3-6 .1-2-1.2-2-1.2-.8-4-.8-1-.6-1.5-2.8 .1-2 1.4-2.4 6-1.9 1.3-1.7 .7-2zM456 163.3l20 0 6.3 12.1 1 1.3 2 1.2 7 .1 4-1.5 2-.2 5 1.6 6 .5 5 1.8 4 .6 4 2.5 2 .7 5 .2 0 49.2-69-.2-2-1.1-2.9-3.8-2.1-1.4-13-.5-2-.8-2-2.3-3.2-6-2.8-2.9-2-1.3-9-.7-2-.8-4.6-6.3-2.6-6-1.8-2.2-3-.5-2.2 .7-1.5 2-2.3 5-1.4 1-6.6 .4-2-.3-1-.7-1.7-2.4-.6-2-.2-16-1.1-9 .6-3.7 2-3.2 1-.5 1 .1 2 1.4 3.2 2.9 3.1 5 2.7 2.1 4 1 7 0 2-.5 5-3.5 5-1.1 5-4.5 1 0 2.9 3.5 2.1 1.2 6 .2 3-.5 2-1.6 3-4 4-.9 2-1.1 1-1.5 .7-2.8zM196.4 172.3l.9-.4 0 1.6-.6-.2-.3-1zM356.7 182.3l1.6-.8 1 .4 1.3 2.4-.2 8-1.1 2.3-1 .5-1.3-.8-1.1-3 0-7 .8-2z"/><path fill="#F5524A" fill-rule="evenodd" d="M74.3 163.3l6.1 0-1.4 1-1.7 .3-3-1.3zM124.9 163.3l5.2 0-.8 2-1 1.1-1 .3-1.5-1.4-.9-2zM245.4 163.3l4.9 0 .2 10 .8 2.4 2 2 4 .7 5 1.8 3 .2 2-.4 4-2.3 2-.6 12-.5 3.2 .7 9.5 4 2.3 2 2 2.8 2 1.1 16 .1 3 .8 1.2 1.2 1 3 0 8-.7 3-4.6 7-1.9 1.7-6 .9-6 2-7 .2-7 2.3-9 1.3-6 2.9-8 .1-2-.7-3-2.5-2-1-12-.3-3-.8-4.9-4.1-2.1-2.8-3-7.3-1.4-8.9 .2-2 1.2-2.2 2-1.5 3-.9 2-2.3 .8-2.1 .3-19zM461 163.3l11.3 0 1 4.3 4 9.1 5 8 1 1.2 2 1.2 7-.1 2-1.5 3-3.8 1-.6 2-.2 8 .6 6 3.2 4 .6 5 1.8 6 .2 0 39.2-30-.1-6-1.9-3-.3-5 0-5 1.7-2 .3-6-1.9-12-.2-7-2.1-13-.3-2-1.1-4-6.8-4-4.2-3-1.8-4-1.6-4-.9-1-.7-1.6-2.3-.7-3-.1-14 .4-2 1-1.4 2-1.2 4-.8 5-3 1 .2 5 3.1 7 .2 2-.4 6-4 9-.6 1.5-1.1 1-2 .2-9zM388.3 174.3l1-.7 .3 .7-.3 1.2-1-1.2z"/><path fill="#F02A38" fill-rule="evenodd" d="M466.1 163.3l3.2 0 2.3 20 1.7 2.7 1 .8 4 1.4 1.7 2.1 1 3 .6 9 1.1 2 1.6 1.1 7 .3 2-.4 1-.7 1.6-3.3 .3-8 .5-2 1.6-2.5 2-1.3 6-1.7 2-.1 6 3.6 9 1.1 6 .2 0 31.2-30-.3-2.1-1.2-2.9-4.2-1-.7-2-.4-7 .2-2 1.6-2 3-2 .9-1.9-1.4-2.1-3.1-2-1.1-30-.2-3-.6-2-2.3-3.3-5.7-1.7-1.4-4-1.9-2-2.3-.4-2.4 0-11 .5-4 .9-1.1 1-.4 1 .2 3 3.7 2 1.4 7 .1 2-.8 3.4-4.1 2.6-1.6 9-.4 3.5-1 2.5-2 1.4-3 .4-11zM275.1 179.3l7.2-.9 4 .4 7 3.1 2.5 2.4 1.1 7 .1 10-1 7-1.5 3-2.5 2-3.7 1.6-11 2-5-1.7-4-.6-5-1.8-13-.2-2-.4-1.3-.9-.9-1-.6-2-.1-13 .3-3 1.6-2.7 1-.4 1 .6 2.1 4.5 1.9 1.8 3 .4 6-.3 2.1-1.9 5.3-12 2.6-2.4 2.8-.6z"/><path fill="#DC0E2C" fill-rule="evenodd" d="M278.6 181.3l4.7-1 3 .7 2.6 1.3 2.9 3 2.1 6 .1 10-1.7 5.6-1.4 2.4-2.1 2-2.5 1.3-3 .9-4-.4-2.8-1.8-4.8-7-1.1-3-.1-8 1.4-9 1.6-2 5.1-1zM448.7 188.3l2.6-.9 15 0 2 .8 1 1.1 1 2 .1 2-1.1 2-2 1.1-18-.1-2-1.5-.8-2.5 .6-2 1.6-2zM507.4 191.3l.9-.4 1.3 .4 .9 1 .5 2-.2 7-.8 2-.7 .8-1 .1-1.1-.9-.9-3 0-7 1.1-2z"/><path fill="#A8001E" fill-rule="evenodd" d="M281.5 183.3l1.8-.4 2.4 1.4 3.8 6 .9 3 0 6-.7 3-4.3 7-2.1 1.2-1.4-.2-1.6-1.4-4-6.6-.7-3 0-6 .5-3 1.2-2.1 4.2-4.9z"/></g><rect x="37.3" y="164.3" width="491.4" height="110.5" fill="none" stroke="#6b6b6b" stroke-width="1"/><line x1="32.3" y1="164.3" x2="37.3" y2="164.3" stroke="#6b6b6b" stroke-width="1"/><text x="29.8" y="167.6" font-size="9.2" text-anchor="end" fill="#1a1a1a" stroke="#1a1a1a" stroke-opacity="0.3" stroke-width="0.6" transform="matrix(1 0 0 1.020 0 -3.35)">0</text><line x1="32.3" y1="201.1" x2="37.3" y2="201.1" stroke="#6b6b6b" stroke-width="1"/><text x="29.8" y="204.4" font-size="9.2" text-anchor="end" fill="#1a1a1a" stroke="#1a1a1a" stroke-opacity="0.3" stroke-width="0.6" transform="matrix(1 0 0 1.020 0 -4.09)">100</text><line x1="32.3" y1="238.0" x2="37.3" y2="238.0" stroke="#6b6b6b" stroke-width="1"/><text x="29.8" y="241.3" font-size="9.2" text-anchor="end" fill="#1a1a1a" stroke="#1a1a1a" stroke-opacity="0.3" stroke-width="0.6" transform="matrix(1 0 0 1.020 0 -4.83)">200</text><line x1="32.3" y1="274.8" x2="37.3" y2="274.8" stroke="#6b6b6b" stroke-width="1"/><text x="29.8" y="278.1" font-size="9.2" text-anchor="end" fill="#1a1a1a" stroke="#1a1a1a" stroke-opacity="0.3" stroke-width="0.6" transform="matrix(1 0 0 1.020 0 -5.56)">300</text><line x1="50.0" y1="274.8" x2="50.0" y2="279.8" stroke="#6b6b6b" stroke-width="1"/><text x="50.0" y="292.3" font-size="9.2" text-anchor="middle" fill="#1a1a1a" stroke="#1a1a1a" stroke-opacity="0.3" stroke-width="0.6" transform="matrix(1 0 0 1.020 0 -5.85)">Oct19</text><line x1="89.1" y1="274.8" x2="89.1" y2="279.8" stroke="#6b6b6b" stroke-width="1"/><text x="89.1" y="292.3" font-size="9.2" text-anchor="middle" fill="#1a1a1a" stroke="#1a1a1a" stroke-opacity="0.3" stroke-width="0.6" transform="matrix(1 0 0 1.020 0 -5.85)">Jan20</text><line x1="127.8" y1="274.8" x2="127.8" y2="279.8" stroke="#6b6b6b" stroke-width="1"/><text x="127.8" y="292.3" font-size="9.2" text-anchor="middle" fill="#1a1a1a" stroke="#1a1a1a" stroke-opacity="0.3" stroke-width="0.6" transform="matrix(1 0 0 1.020 0 -5.85)">Apr20</text><line x1="166.4" y1="274.8" x2="166.4" y2="279.8" stroke="#6b6b6b" stroke-width="1"/><text x="166.4" y="292.3" font-size="9.2" text-anchor="middle" fill="#1a1a1a" stroke="#1a1a1a" stroke-opacity="0.3" stroke-width="0.6" transform="matrix(1 0 0 1.020 0 -5.85)">Jul20</text><line x1="205.5" y1="274.8" x2="205.5" y2="279.8" stroke="#6b6b6b" stroke-width="1"/><text x="205.5" y="292.3" font-size="9.2" text-anchor="middle" fill="#1a1a1a" stroke="#1a1a1a" stroke-opacity="0.3" stroke-width="0.6" transform="matrix(1 0 0 1.020 0 -5.85)">Oct20</text><line x1="244.6" y1="274.8" x2="244.6" y2="279.8" stroke="#6b6b6b" stroke-width="1"/><text x="244.6" y="292.3" font-size="9.2" text-anchor="middle" fill="#1a1a1a" stroke="#1a1a1a" stroke-opacity="0.3" stroke-width="0.6" transform="matrix(1 0 0 1.020 0 -5.85)">Jan21</text><line x1="282.8" y1="274.8" x2="282.8" y2="279.8" stroke="#6b6b6b" stroke-width="1"/><text x="282.8" y="292.3" font-size="9.2" text-anchor="middle" fill="#1a1a1a" stroke="#1a1a1a" stroke-opacity="0.3" stroke-width="0.6" transform="matrix(1 0 0 1.020 0 -5.85)">Apr21</text><line x1="321.4" y1="274.8" x2="321.4" y2="279.8" stroke="#6b6b6b" stroke-width="1"/><text x="321.4" y="292.3" font-size="9.2" text-anchor="middle" fill="#1a1a1a" stroke="#1a1a1a" stroke-opacity="0.3" stroke-width="0.6" transform="matrix(1 0 0 1.020 0 -5.85)">Jul21</text><line x1="360.5" y1="274.8" x2="360.5" y2="279.8" stroke="#6b6b6b" stroke-width="1"/><text x="360.5" y="292.3" font-size="9.2" text-anchor="middle" fill="#1a1a1a" stroke="#1a1a1a" stroke-opacity="0.3" stroke-width="0.6" transform="matrix(1 0 0 1.020 0 -5.85)">Oct21</text><line x1="399.6" y1="274.8" x2="399.6" y2="279.8" stroke="#6b6b6b" stroke-width="1"/><text x="399.6" y="292.3" font-size="9.2" text-anchor="middle" fill="#1a1a1a" stroke="#1a1a1a" stroke-opacity="0.3" stroke-width="0.6" transform="matrix(1 0 0 1.020 0 -5.85)">Jan22</text><line x1="437.8" y1="274.8" x2="437.8" y2="279.8" stroke="#6b6b6b" stroke-width="1"/><text x="437.8" y="292.3" font-size="9.2" text-anchor="middle" fill="#1a1a1a" stroke="#1a1a1a" stroke-opacity="0.3" stroke-width="0.6" transform="matrix(1 0 0 1.020 0 -5.85)">Apr22</text><line x1="476.5" y1="274.8" x2="476.5" y2="279.8" stroke="#6b6b6b" stroke-width="1"/><text x="476.5" y="292.3" font-size="9.2" text-anchor="middle" fill="#1a1a1a" stroke="#1a1a1a" stroke-opacity="0.3" stroke-width="0.6" transform="matrix(1 0 0 1.020 0 -5.85)">Jul22</text><line x1="515.5" y1="274.8" x2="515.5" y2="279.8" stroke="#6b6b6b" stroke-width="1"/><text x="515.5" y="292.3" font-size="9.2" text-anchor="middle" fill="#1a1a1a" stroke="#1a1a1a" stroke-opacity="0.3" stroke-width="0.6" transform="matrix(1 0 0 1.020 0 -5.85)">Oct22</text><text x="8.7" y="218.9" font-size="9.6" text-anchor="middle" fill="#1a1a1a" stroke="#1a1a1a" stroke-opacity="0.3" stroke-width="0.6" transform="rotate(-90 8.7 218.9)">Depth (m)</text><text x="37.6" y="162.1" font-size="9.8" font-weight="bold" fill="#000" stroke="#000" stroke-width="0.3">(b) Temperature</text><rect x="533.5" y="164.30" width="10.1" height="6.44" fill="#A8001E"/><rect x="533.5" y="170.44" width="10.1" height="6.44" fill="#DC0E2C"/><rect x="533.5" y="176.58" width="10.1" height="6.44" fill="#F02A38"/><rect x="533.5" y="182.72" width="10.1" height="6.44" fill="#F5524A"/><rect x="533.5" y="188.86" width="10.1" height="6.44" fill="#F7825A"/><rect x="533.5" y="194.99" width="10.1" height="6.44" fill="#FBB07A"/><rect x="533.5" y="201.13" width="10.1" height="6.44" fill="#FDD495"/><rect x="533.5" y="207.27" width="10.1" height="6.44" fill="#FEEDB8"/><rect x="533.5" y="213.41" width="10.1" height="6.44" fill="#FFFBE0"/><rect x="533.5" y="219.55" width="10.1" height="6.44" fill="#E6FBFF"/><rect x="533.5" y="225.69" width="10.1" height="6.44" fill="#BFF0FB"/><rect x="533.5" y="231.83" width="10.1" height="6.44" fill="#98E0F8"/><rect x="533.5" y="237.97" width="10.1" height="6.44" fill="#72C8F4"/><rect x="533.5" y="244.11" width="10.1" height="6.44" fill="#56A8F2"/><rect x="533.5" y="250.24" width="10.1" height="6.44" fill="#3C8CF4"/><rect x="533.5" y="256.38" width="10.1" height="6.44" fill="#2A55F5"/><rect x="533.5" y="262.52" width="10.1" height="6.44" fill="#1418EE"/><rect x="533.5" y="268.66" width="10.1" height="6.14" fill="#2208CF"/><line x1="541.1" y1="164.3" x2="543.6" y2="164.3" stroke="#6b6b6b" stroke-width="0.7"/><text x="546.0" y="167.1" font-size="7.7" fill="#1a1a1a" stroke="#1a1a1a" stroke-opacity="0.3" stroke-width="0.6" transform="matrix(1 0 0 1.020 0 -3.34)">2</text><line x1="541.1" y1="191.9" x2="543.6" y2="191.9" stroke="#6b6b6b" stroke-width="0.7"/><text x="546.0" y="194.7" font-size="7.7" fill="#1a1a1a" stroke="#1a1a1a" stroke-opacity="0.3" stroke-width="0.6" transform="matrix(1 0 0 1.020 0 -3.89)">1</text><line x1="541.1" y1="219.6" x2="543.6" y2="219.6" stroke="#6b6b6b" stroke-width="0.7"/><text x="546.0" y="222.4" font-size="7.7" fill="#1a1a1a" stroke="#1a1a1a" stroke-opacity="0.3" stroke-width="0.6" transform="matrix(1 0 0 1.020 0 -4.45)">0</text><line x1="541.1" y1="247.2" x2="543.6" y2="247.2" stroke="#6b6b6b" stroke-width="0.7"/><text x="546.0" y="250.0" font-size="7.7" fill="#1a1a1a" stroke="#1a1a1a" stroke-opacity="0.3" stroke-width="0.6" transform="matrix(1 0 0 1.020 0 -5.00)">-1</text><line x1="541.1" y1="274.8" x2="543.6" y2="274.8" stroke="#6b6b6b" stroke-width="0.7"/><text x="546.0" y="277.6" font-size="7.7" fill="#1a1a1a" stroke="#1a1a1a" stroke-opacity="0.3" stroke-width="0.6" transform="matrix(1 0 0 1.020 0 -5.55)">-2</text><text x="562.6" y="219.6" font-size="7.5" text-anchor="middle" fill="#1a1a1a" stroke="#1a1a1a" stroke-opacity="0.3" stroke-width="0.6" transform="rotate(-90 562.6 219.6)">Temperature (°C)</text><g clip-path="url(#clip_c)"><rect x="37.3" y="316.5" width="491.4" height="110.4" fill="#FFFBE0"/><path fill="#E6FBFF" fill-rule="evenodd" d="M90.2 315.5l54.8 0 .9 3 2.8 4 1.2 3 .2 16-.8 4.9-3 5.1-1 2.8-.2 15.2-.8 3.3-1.1 1.7-1.9 1.5-8 .6-5 2-2.5 1.9-2.8 4-1.7 .8-3 .5-2 1.5-1.1 3.2-.3 8-.8 3-1.8 1.9-4 .8-1.9 1.3-2.7 6-2.8 4-.8 3-.1 9-46.6 0-.1-37-1-3.2-1-1.2-2-.5-2 .5-1.8 2.4-.6 3-.1 36-8.5 0 0-79.4 10 17.5 2 1.3 3-.2 5-5.5 13-7.4 11.9-11.3 4.3-9 1.8-9.2 2.9-8.8zM177.3 315.5l12.8 0 2.2 6.7 .8 4.3 .6 19-.1 17-4.1 11-3.3 5-.9 3.4-.1 45.6-15 0 .1-18 1-2.7 3.1-5.3 .7-3 .2-62 1.4-11 .6-10zM220.3 315.5l43.6 0-.8 22-2.8 16-1 3-2 3-1 .5-8.5 1.5-1.6 1-2.9 3.7-2 .8-7 0-2.5-1.5-4.2-9-5.7-20-1.5-10-.1-11zM272.1 315.5l12.2 0-.6 10-1.4 7.2-2 5.5-1 1.3-1 .4-2-1.5-1.8-3.9-.8-9-1.6-10zM302.6 315.5l26.8 0-.3 46-.8 3.7-2.3 5.3-.4 3 0 54-45.1 0 .1-26 .6-3 1.1-1.9 2-1.6 3 .3 2 2.1 3 5.3 2 1 3-.1 2-1.5 4.9-8.6 1.1-3 .3-17-2-8-.5-4-.5-46zM358.5 315.5l25.9 0 0 21-.5 8-1.4 7-1.3 4-1.9 3.2-6 7.3-2 1-2-.1-2-1.2-4.9-8.2-1.7-4-1.3-9-.9-29zM415.8 315.5l47.2 0-3.4 17-1.3 4-2 2.6-2 1.7-3 .9-2-.1-2-1-7-6.2-2-.8-2 .9-3 2.3-5 2.3-3 .4-5-.3-1-.9-1-2.1-2-8.5-.5-12.2zM491 315.5l38.3 0 0 24-3 0-2 .6-2 2.2-3 4.6-2 1.5-11 .3-3-.9-1.7-2.3-3.1-7-2.3-12-5.2-11zM362.1 387.5l1.2-.6 1 .5 1 1.9 .4 2.2 0 36-4.9 0 0-35 .3-3 1-2zM473.7 404.5l1.6-.5 2 .4 1 1 1 2.5 .3 19.6-8.6 0 .1-18 .8-3 1.8-2zM422.9 405.5l1.4 .2 1.4 2.8 .2 19-5 0 .1-18 .4-2 1.5-2z"/><path fill="#BFF0FB" fill-rule="evenodd" d="M95.1 315.5l34.9 0 .9 3 1.4 1.8 4.8 1.2 1.2 .8 5.9 10.2 .9 4-.2 7-3 8-2.2 12-1.4 2.4-1 .7-4 1.1-4 4.6-2 1.5-6 2.3-8 .5-2 1.5-2.4 5.4-2.8 4-2.1 5-1.7 1.7-4 1-1.4 1.3-3.4 6-2.2 3-2.7 6-2.8 4-.8 3-.1 9-28.6 0 0-36-1.4-12 .4-8 2-3.3 1-.7 4-1 1-.8 3.6-5.2 7.4-6.4 10.8-10.6 4.3-8 1-10 3.4-6 1.3-4zM222.5 315.5l39.9 0-.5 20-2.6 14-1 3.5-1 1.6-16 5.5-5-.4-3-1.8-2.3-3.4-2.7-5.7-3.8-12.3-2.2-11 .2-10zM273.8 315.5l8.5 0-.9 11-2.1 6.9-1 1.1-1-.4-1-2.9-2.5-15.7zM303.5 315.5l23.4 0-.2 12-1.6 9-11.3 21-4.2 7-1.3 .8-1-.6-1.4-2.2-1-5-.6-9.5-.8-32.5zM360 315.5l20.8 0 1.2 11-.1 16-.6 4-1.8 6-1.2 2.1-8 4.9-2-.2-2-2-1.8-3.8-1.9-6-.7-4-.1-8-1.8-20zM419.6 315.5l16.4 0 .3 1.4 1 1.3 1-1.1 .2-1.6 22.6 0-1.8 10-2 7-1.2 2-1.8 1.7-3 .9-2-.2-2-.9-7-6.2-2-1.1-2 0-5 1.6-9 0-2-.4-1-.9-1.1-3.5 1.4-10zM496 315.5l33.3 0 0 14.8-3 0-2 .6-2 2.2-3 4.6-2 1.5-10 .3-3-.6-2-2.2-1.1-2.2-1.8-10-3.4-9z"/><path fill="#98E0F8" fill-rule="evenodd" d="M105.1 315.5l14.8 0 3.9 7 2 5 1.5 2 2 .7 7 .4 2 1.6 1.5 3.3 .3 4-.1 4-1.7 10.6-1 2.4-1 .9-3 .8-1.8 1.3-3.2 5.7-2 1.6-16 .3-3 .8-1.4 1.6-1.9 5-5.5 10-5.2 8.2-1 1-2 .9-7-.1-2-1.4-3-6.2-2-1.2-4-.9-1.8-2.3-.6-4 .3-15 1.2-2 5.9-3.9 3.6-5.1 7.7-7 3.7-4.8 1-.7 4-1 1.5-1.5 4.3-10 2-12zM112.3 349.5l-1.5 2-.4 2 .6 2 1.3 1.6 2 .7 7-.1 2-1 .8-1.2 .5-2-.3-1.9-2-2.4-2-.5-5 0-3 .8zM228.9 315.5l32.2 0-.6 18-2.2 10.7-2 3.9-3 1.4-3 3.3-2 1.5-6.1 1.2-2.9 0-2-.7-2.3-2.3-4.7-8.6-3.1-7.4-1.5-10 .4-3 2.2-5.1 .6-2.9zM275.5 315.5l5 0-1.2 7.8-1 1.5-1-1.4-1.8-7.9zM304.3 315.5l20.1 0-.2 10-1.4 5-11.5 21.4-2 2.8-1 .2-1-1.4-.5-2-1.1-7-1.4-29zM361.3 315.5l16.3 0 1.9 11-.3 18-.9 2.7-1.6 2.3-7.4 4.8-1-.2-1.5-1.6-2.5-7-3-30zM422.3 315.5l8.6 0-.6 2.6-1 1.7-1 .8-2 .4-2-.4-1-1.1-1-4zM440.9 315.5l18.4 0-2.1 10-1.1 3-1.8 2.7-1 .8-2 .5-3-.5-6.2-5.5-1.1-3-.1-8zM499.7 315.5l26.5 0-.9 3.3-3 4.2-2.3 4.5-1.7 2-2 .7-6 .1-4-.1-2-.9-2-4.4-2.6-9.4z"/><path fill="#72C8F4" fill-rule="evenodd" d="M231.6 315.5l28.1 0-.2 12-1.8 9-1.4 2.4-3 1.4-1 1-3 4.6-2 2.1-2 .6-4 .1-3-.8-2-2.3-5-9.1-.8-3-.1-6 1.2-12zM305.2 315.5l16.7 0-.6 6.4-1 4.1-9 16.7-2 2.5-1.1-.7-1.4-6-1.6-23zM362.6 315.5l13.2 0 1.1 11-1.1 9-.2 7-1.3 3-5 3.9-1-.2-1-1.2-1.3-3.5-3.4-29zM442.8 315.5l14.4 0-1.9 7.8-2 3.8-2 .8-2-.2-3-2.1-2.3-4.1-1.2-6zM502.5 315.5l13.7 0-.8 3-1.1 1.5-2 1-3 .1-3-.1-2-1.1-1-1.7-.8-2.7zM109 321.5l5.3-.4 3 .9 1.3 1.5 .8 2-.2 2-.9 1.5-1 .8-2 .5-5 0-2-.6-1-1.2-.5-3 .5-2.1 1.7-1.9zM91.7 349.5l2.6-.7 2 .1 2 1.1 1 1.6 .7 3.9 0 14-1 4-4.7 8.5-2 2.5-1 .7-2 .2-2-.6-1-1-5.3-9.3-1-3-.1-7 1.1-4 4.1-7 2.2-1.9 4.4-2.1z"/><path fill="#56A8F2" fill-rule="evenodd" d="M234.1 315.5l23.8 0 0 9-.6 3.4-1 1.7-4.1 1.9-2.9 5.1-2 2.2-2 .6-6-.2-1.2-.7-1.6-2-1-3-.2-7-1.2-11zM306.1 315.5l13.2 0-.9 4-1.7 4-5.4 10-2 2.2-1-1.2-1-4.4-1.2-14.6zM363.8 315.5l10.3 0 0 12-1.8 7-1 7-.8 2-1.2 .9-1-.5-1-3-3.5-25.4zM446 315.5l8.6 0-1.3 3.7-1 1.2-2 .5-2-1.1-1-1.2-1.3-3.1zM89.8 356.5l2.5-.4 2 1 1.3 2.4 .6 3-.4 5-1 4-2.5 3.8-2 .9-2-.4-1.5-1.3-1.2-2-.6-3 0-5 .6-3 1.8-3 2.4-2z"/><path fill="#3C8CF4" fill-rule="evenodd" d="M237 315.5l3.4 0-1.1 2.8-1 .2-1-1.5-.3-1.5zM307.1 315.5l8.6 0-4.4 8.8-1 1.4-1 .5-1-1.9-1.2-8.8zM365.1 315.5l7.3 0-.5 10-1.6 5.9-1 2.1-1-.3-1-3.1-2.2-14.6zM91.2 362.5l1.1-.1 0 1.6-1 .3-.1-1.8z"/><path fill="#2A55F5" fill-rule="evenodd" d="M309.2 315.5l1.2 0-1.1 .7-.1-.7zM366.5 315.5l4.2 0-.4 4.1-1 4.1-1 0-1-3.1-.8-5.1z"/><path fill="#FEEDB8" fill-rule="evenodd" d="M36.3 315.5l51.2 0-3.7 15-3.4 8-1.9 3-11.2 9.2-5 1.5-5 3.1-5 2.1-2 .4-2-.3-1-.7-6-7.3-1.8-3-3.2-7.8 0-23.2zM155.1 315.5l20.1 0-1 9-2.4 10-1.5 10-.2 53-.8 3-3 5-1 3-.2 19-20 0 .2-46 6-12.6 3-4.3 .8-3.1 0-46zM195.2 315.5l23.2 0 .1 12 .9 12 .8 4 3.7 10 1.4 10 .1 9-.4 9-.8 2-2.9 4.2-.8 2.8-.3 17-.8 3-1.1 1-1 0-1-.9-2-4.6-3-4.2-2-4.9-3-4.3-2-4.9-3-4.3-2-4.9-2.8-4-.8-2 1-10 .1-9-.3-9-1.2-10-.1-19zM265.6 315.5l4.8 0 1.6 10 .6 10 1.7 4.1 4 6.6 1 0 1-1.3 3.3-7.4 1.2-6 1.9-16 15.1 0 .3 28-.4 19 .7 10-1.3 15-.9 3-1.9 2.8-2 1.2-2-.1-2-1.6-1.3-2.3-.7-9-1.4-3-1.6-1.6-1-.4-2 0-2 1-1.5 3-.8 10-3.5 6-.9 3-.1 28-30.1 0 .2-28 .7-2.4 3-4.4 .8-2.2 .8-11 4.4-8 5-11.8 1.5-5.2 2.9-19 .9-20zM332.1 315.5l23.5 0 .1 55-1.2 4-3.3 5-.8 11-1.1 2.2-1 .6-1.4-.8-2.4-5-1.2-1.3-4-.9-2-1.1-2.6-5.7-2.8-4-.8-2 .9-11 .1-46zM387.2 315.5l23.5 0 2.7 7 3.9 21.5 1 2.7 2 1.8 7-.2 2-1.7 3.2-4.1 3.8-3.3 2-.9 2 .7 8 6.9 3 .5 3-.8 3-2.8 2.5-4.3 3.5-14.4 2.9-8.6 19.7 0 6.6 13 1.8 4.7 1.8 12.3 .2 16.9 .6 2.1 1.4 1.8 2 .7 3-.4 2-2 1.6-4.1 1.4-1.7 5-1.3 6-2.6 5-5.6 2-.6 3 0 0 78.8-23.2 0 .2-19 1-2.7 3.4-5.3 .4-3 0-6-1-4-2.9-4-2.1-5-1.8-1.7-3-.4-2.4 1.1-2.9 6-3.3 5-.6 4 0 23-.4 3-.8 2-2.9 4-1 3-3.2 0-.3-19-.9-7-1.3-4.2-3-4.3-2-4.6-1-1.2-1-.2-1 .6-2.3 4.9-1.7 1.7-2 .5-6 .1-2 .7-1.6 2-1.6 4-1.8 1.9-3 .5-6-.3-1-.4-1.4-1.7-2.1-5-2.9-4-2-5-2.6-3.5-5.4-9.5-1.9-5-1.7-1.8-2-.5-2 .3-1 .8-2 3.2-.7 19-1.3 3-2.2 3-2.8 6-1 .8-2 .5-3-.5-1.6-1.8-1.6-4-1.5-2-2.3-.7-3 .5-1.8 2.2-2.3 5-1.9 1.2-4 .8-1.7 2-.8 4-.1 17-4.9 0 0-54 .8-3 6-11 1.9-6 2.5-19 .2-19z"/><path fill="#FDD495" fill-rule="evenodd" d="M36.3 315.5l49.8 0-1.3 6-2.9 9-2.6 5.9-2 2.8-12 8.4-8 3-3 .4-5-1-6-3.7-2-2.4-3-9-2-2.7 0-16.7zM160.1 315.5l13.3 0-.9 6-2.2 8.2-2 5.9-1 1.3-1-.1-1-1.4-4.5-7.9-.6-3-.1-9zM198.9 315.5l16.4 0-.4 20-.7 2-2.9 4.1-2 4.9-1 1.2-2 .9-3-.3-2-1.8-3.5-10-.5-3.9 0-7.1 1.6-10zM288.8 315.5l12.1 0 .4 28-.8 28-1.2 8.1-1 2.7-1 .8-1-.7-9.7-16.9-1-3-.1-18 1.8-19 1.5-10zM395.9 315.5l9.8 0 6.6 13.6 1.6 6.4 2 19-.3 8-6.3 13-4.1 7-.9 1.2-1 .4-1.1-.6-3.9-6.2-2-.9-6-.2-2-.5-1.2-1.2-1.1-3-.1-8 1.8-19 .6-3.2 2.3-6.8 .4-9 1.1-3 3.1-5 .7-2zM471.3 315.5l9.5 0 5.2 7 4.6 12 .5 4 0 31-.4 3-.9 2-1.5 1.3-3 .5-48 0-3-.5-2-2-1.3-3.3-.1-14 .6-4 3.2-6 1.6-2.3 2-1.2 2 .9 4 5.2 2 1.2 3 .7 4-.1 2-.4 2-1.2 1.2-1.8 2.7-7 4.1-13.2 6-11.8zM267.7 319.5l.6-.5 1.5 4.5 .9 12 3.4 9 2.3 13 .6 6-.1 9-1.1 7-1.3 4-3.2 5.4-.8 2.6-.1 36-4.9 0-.1-9-.9-3-2.2-2.1-3-.4-2-1-1.4-2.5-.5-3 .3-25 2.6-6.2 5.2-20.8 2.6-19 .4-11 1.2-5zM338.7 321.5l4.6-.4 4.4 .4 2.1 2 .8 3-.2 9-1.1 2.5-3 4.5-.6 4 .5 8 3.7 6 .3 3-.9 2.1-2.8 3.9-1.7 4-1.5 1.4-1-.4-.8-1-2.2-4.9-2.3-3.1-1.2-4 0-35 .8-3 2.1-2zM216.2 351.5l1.1-.9 1 .3 1.2 1.6 .7 3 0 15-.8 3-1.1 1.2-1 0-1-1-.9-3.2 0-15 .8-4zM523.4 358.5l1.9-.5 4-.1 0 27.6-9-.1-2-.8-1-1.1-2-4.8-2.9-4.2-.8-2 .7-3.5 5-7.4 2-1.3 4.1-1.8zM154.3 376.5l2 0 2 .9 1.3 2.1 .4 2 .1 35-.8 3.3-3.2 4.7-1 3-4.9 0 0-45 1.1-3.4 1-1.3 2-1.3z"/><path fill="#FBB07A" fill-rule="evenodd" d="M36.3 315.5l48.7 0-.8 4-3.3 10-1.6 3.6-2 2.9-3 2.3-11 6.7-3 .8-5 .6-2-.2-2-.8-8.2-5.9-3.9-8-2.9-3.9 0-12.1zM163.8 315.5l7.6 0-2.1 8.2-1 2.4-1 1.1-1-.3-1.3-2.4-1.2-9zM201.6 315.5l10.1 0-1.4 10-1 2.6-2 1.8-2 .3-2-.3-1-.6-1.2-1.8-.4-3 .9-9zM290.6 315.5l9.4 0 .5 11-.1 21-1.5 20-.6 3.6-1 1.7-1-.4-1-1.3-4.2-7.6-1-3-.6-4-.9-12 .2-17 1.8-12zM473.7 319.5l2.6-.6 3 .9 4 3.7 1.4 3 1.4 10-.2 26-1.3 3-2.3 1.4-17 .1-2-.7-.9-.8-1.2-3-.2-8 1.4-9 7.9-21.2 2-3.6 1.4-1.2zM399.3 321.5l3 0 2 1.8 5.2 9.2 1.2 4 .1 25-1.1 3-3.4 6.3-2 2.9-1 .5-2-1.8-4.3-6.9-5.4-10-.7-3 .4-8.8 4.3-9.2 .7-9 1-2.1 2-1.9zM267.7 338.5l.6-1 1 1.1 2.2 5.9 .5 9 2.1 9 .1 7-.4 4-1.5 4.4-3 4.7-1 .9-1 .1-1-.8-3.1-5.3-1.3-5 3.5-19 1-10 1.3-5zM437.4 351.5l.9-.6 1 .4 1.3 2.2 .3 2-.4 8-1.2 1.8-1 .4-1.4-1.2-.8-3 0-7 1.3-3zM528.9 367.5l.4-.2 0 8.8-2-1.7-.7-2.9 .7-2.5 1.6-1.5z"/><path fill="#F7825A" fill-rule="evenodd" d="M36.3 315.5l47.6 0-3.9 13-2.7 4.7-8 5.1-6 2.8-2 .6-5 .1-3-.2-2-.9-8-7.1-5-8.2-2-2.4 0-7.5zM167.2 315.5l.9 0-.8 .5-.1-.5zM205.4 315.5l3.2 0-.3 1.7-1 1.3-1-.3-.9-2.7zM292.5 315.5l6.5 0 .3 4.1 .4 7.9-.3 21-1.1 10.4-1 3.5-1 .5-2-2.8-1.9-4.6-1.7-10-.1-19 1.9-11zM476.3 323.5l3 1 1.7 2 .6 2 .8 9-.1 7-.6 6-1.4 4.7-2 2.2-2 .5-6-.1-2-.7-1-1-.7-1.6-.1-2 2.8-7 .5-10 2.1-8 1.7-3 2.7-1zM402.2 332.5l1.1-.4 1 .8 1.3 2.6 .3 8 1.2 9-1.1 9-1.7 3-1 .5-2-1.8-2-3.5-2.7-5.2-.7-3 0-6 .5-2 3.5-6 2.3-5zM267.9 354.5l.4-.8 1 1.2 1.8 5.6 .6 4-.4 8-1.4 3-1.6 1.5-1-.2-1-.8-1.3-2.5-.5-2 1.4-11 2-6z"/><path fill="#F5524A" fill-rule="evenodd" d="M36.3 315.5l46.5 0-3.5 11.7-1.1 2.3-1.9 2.1-10 4.8-4 .7-5 .1-5-.5-7.5-5.2-2.2-3-4.3-7.7-2-2.4 0-2.9zM295.9 316.5l.4-.9 1 1.4 1 4.7 .4 5.8-.2 19-1.2 6.1-1 .9-1.5-2-1.5-3.7-.9-6.3 .2-16 1.7-6.1 1.6-2.9zM476.3 330.5l2 1.3 .8 1.7 .5 6-.5 6-.8 1.7-2 1.3-2-.4-1-1.3-.6-2.3-.2-4 .2-5 .6-2.4 1-1.7 2-.9zM402.1 351.5l1.2 .2 0 2.9-1 .1-.6-1.2 .4-2z"/><path fill="#F02A38" fill-rule="evenodd" d="M38.4 315.5l43.1 0-3.2 11-2 2.7-9 3.5-9 .4-6-.4-4-1.6-2-1.3-2.5-3.3-5.4-11z"/><path fill="#DC0E2C" fill-rule="evenodd" d="M41 315.5l38.9 0-2.4 9-1.2 2.1-2 1-6 1.5-9 .3-7-.2-5-1.5-1.7-2.2-4.6-10z"/><path fill="#A8001E" fill-rule="evenodd" d="M44.7 315.5l33.2 0-1.6 4.7-1 1.7-2 1.8-3 .9-9 .1-12-.3-1.1-.9-3.5-8z"/></g><rect x="37.3" y="316.5" width="491.4" height="110.4" fill="none" stroke="#6b6b6b" stroke-width="1"/><line x1="32.3" y1="316.5" x2="37.3" y2="316.5" stroke="#6b6b6b" stroke-width="1"/><text x="29.8" y="319.8" font-size="9.2" text-anchor="end" fill="#1a1a1a" stroke="#1a1a1a" stroke-opacity="0.3" stroke-width="0.6" transform="matrix(1 0 0 1.020 0 -6.40)">0</text><line x1="32.3" y1="353.3" x2="37.3" y2="353.3" stroke="#6b6b6b" stroke-width="1"/><text x="29.8" y="356.6" font-size="9.2" text-anchor="end" fill="#1a1a1a" stroke="#1a1a1a" stroke-opacity="0.3" stroke-width="0.6" transform="matrix(1 0 0 1.020 0 -7.13)">100</text><line x1="32.3" y1="390.1" x2="37.3" y2="390.1" stroke="#6b6b6b" stroke-width="1"/><text x="29.8" y="393.4" font-size="9.2" text-anchor="end" fill="#1a1a1a" stroke="#1a1a1a" stroke-opacity="0.3" stroke-width="0.6" transform="matrix(1 0 0 1.020 0 -7.87)">200</text><line x1="32.3" y1="426.9" x2="37.3" y2="426.9" stroke="#6b6b6b" stroke-width="1"/><text x="29.8" y="430.2" font-size="9.2" text-anchor="end" fill="#1a1a1a" stroke="#1a1a1a" stroke-opacity="0.3" stroke-width="0.6" transform="matrix(1 0 0 1.020 0 -8.60)">300</text><line x1="50.0" y1="426.9" x2="50.0" y2="431.9" stroke="#6b6b6b" stroke-width="1"/><text x="50.0" y="444.4" font-size="9.2" text-anchor="middle" fill="#1a1a1a" stroke="#1a1a1a" stroke-opacity="0.3" stroke-width="0.6" transform="matrix(1 0 0 1.020 0 -8.89)">Oct19</text><line x1="89.1" y1="426.9" x2="89.1" y2="431.9" stroke="#6b6b6b" stroke-width="1"/><text x="89.1" y="444.4" font-size="9.2" text-anchor="middle" fill="#1a1a1a" stroke="#1a1a1a" stroke-opacity="0.3" stroke-width="0.6" transform="matrix(1 0 0 1.020 0 -8.89)">Jan20</text><line x1="127.8" y1="426.9" x2="127.8" y2="431.9" stroke="#6b6b6b" stroke-width="1"/><text x="127.8" y="444.4" font-size="9.2" text-anchor="middle" fill="#1a1a1a" stroke="#1a1a1a" stroke-opacity="0.3" stroke-width="0.6" transform="matrix(1 0 0 1.020 0 -8.89)">Apr20</text><line x1="166.4" y1="426.9" x2="166.4" y2="431.9" stroke="#6b6b6b" stroke-width="1"/><text x="166.4" y="444.4" font-size="9.2" text-anchor="middle" fill="#1a1a1a" stroke="#1a1a1a" stroke-opacity="0.3" stroke-width="0.6" transform="matrix(1 0 0 1.020 0 -8.89)">Jul20</text><line x1="205.5" y1="426.9" x2="205.5" y2="431.9" stroke="#6b6b6b" stroke-width="1"/><text x="205.5" y="444.4" font-size="9.2" text-anchor="middle" fill="#1a1a1a" stroke="#1a1a1a" stroke-opacity="0.3" stroke-width="0.6" transform="matrix(1 0 0 1.020 0 -8.89)">Oct20</text><line x1="244.6" y1="426.9" x2="244.6" y2="431.9" stroke="#6b6b6b" stroke-width="1"/><text x="244.6" y="444.4" font-size="9.2" text-anchor="middle" fill="#1a1a1a" stroke="#1a1a1a" stroke-opacity="0.3" stroke-width="0.6" transform="matrix(1 0 0 1.020 0 -8.89)">Jan21</text><line x1="282.8" y1="426.9" x2="282.8" y2="431.9" stroke="#6b6b6b" stroke-width="1"/><text x="282.8" y="444.4" font-size="9.2" text-anchor="middle" fill="#1a1a1a" stroke="#1a1a1a" stroke-opacity="0.3" stroke-width="0.6" transform="matrix(1 0 0 1.020 0 -8.89)">Apr21</text><line x1="321.4" y1="426.9" x2="321.4" y2="431.9" stroke="#6b6b6b" stroke-width="1"/><text x="321.4" y="444.4" font-size="9.2" text-anchor="middle" fill="#1a1a1a" stroke="#1a1a1a" stroke-opacity="0.3" stroke-width="0.6" transform="matrix(1 0 0 1.020 0 -8.89)">Jul21</text><line x1="360.5" y1="426.9" x2="360.5" y2="431.9" stroke="#6b6b6b" stroke-width="1"/><text x="360.5" y="444.4" font-size="9.2" text-anchor="middle" fill="#1a1a1a" stroke="#1a1a1a" stroke-opacity="0.3" stroke-width="0.6" transform="matrix(1 0 0 1.020 0 -8.89)">Oct21</text><line x1="399.6" y1="426.9" x2="399.6" y2="431.9" stroke="#6b6b6b" stroke-width="1"/><text x="399.6" y="444.4" font-size="9.2" text-anchor="middle" fill="#1a1a1a" stroke="#1a1a1a" stroke-opacity="0.3" stroke-width="0.6" transform="matrix(1 0 0 1.020 0 -8.89)">Jan22</text><line x1="437.8" y1="426.9" x2="437.8" y2="431.9" stroke="#6b6b6b" stroke-width="1"/><text x="437.8" y="444.4" font-size="9.2" text-anchor="middle" fill="#1a1a1a" stroke="#1a1a1a" stroke-opacity="0.3" stroke-width="0.6" transform="matrix(1 0 0 1.020 0 -8.89)">Apr22</text><line x1="476.5" y1="426.9" x2="476.5" y2="431.9" stroke="#6b6b6b" stroke-width="1"/><text x="476.5" y="444.4" font-size="9.2" text-anchor="middle" fill="#1a1a1a" stroke="#1a1a1a" stroke-opacity="0.3" stroke-width="0.6" transform="matrix(1 0 0 1.020 0 -8.89)">Jul22</text><line x1="515.5" y1="426.9" x2="515.5" y2="431.9" stroke="#6b6b6b" stroke-width="1"/><text x="515.5" y="444.4" font-size="9.2" text-anchor="middle" fill="#1a1a1a" stroke="#1a1a1a" stroke-opacity="0.3" stroke-width="0.6" transform="matrix(1 0 0 1.020 0 -8.89)">Oct22</text><text x="8.7" y="371.0" font-size="9.6" text-anchor="middle" fill="#1a1a1a" stroke="#1a1a1a" stroke-opacity="0.3" stroke-width="0.6" transform="rotate(-90 8.7 371.0)">Depth (m)</text><text x="37.6" y="314.3" font-size="9.8" font-weight="bold" fill="#000" stroke="#000" stroke-width="0.3">(c) Velocity</text><rect x="533.5" y="316.50" width="10.1" height="6.43" fill="#A8001E"/><rect x="533.5" y="322.63" width="10.1" height="6.43" fill="#DC0E2C"/><rect x="533.5" y="328.77" width="10.1" height="6.43" fill="#F02A38"/><rect x="533.5" y="334.90" width="10.1" height="6.43" fill="#F5524A"/><rect x="533.5" y="341.03" width="10.1" height="6.43" fill="#F7825A"/><rect x="533.5" y="347.17" width="10.1" height="6.43" fill="#FBB07A"/><rect x="533.5" y="353.30" width="10.1" height="6.43" fill="#FDD495"/><rect x="533.5" y="359.43" width="10.1" height="6.43" fill="#FEEDB8"/><rect x="533.5" y="365.57" width="10.1" height="6.43" fill="#FFFBE0"/><rect x="533.5" y="371.70" width="10.1" height="6.43" fill="#E6FBFF"/><rect x="533.5" y="377.83" width="10.1" height="6.43" fill="#BFF0FB"/><rect x="533.5" y="383.97" width="10.1" height="6.43" fill="#98E0F8"/><rect x="533.5" y="390.10" width="10.1" height="6.43" fill="#72C8F4"/><rect x="533.5" y="396.23" width="10.1" height="6.43" fill="#56A8F2"/><rect x="533.5" y="402.37" width="10.1" height="6.43" fill="#3C8CF4"/><rect x="533.5" y="408.50" width="10.1" height="6.43" fill="#2A55F5"/><rect x="533.5" y="414.63" width="10.1" height="6.43" fill="#1418EE"/><rect x="533.5" y="420.77" width="10.1" height="6.13" fill="#2208CF"/><line x1="541.1" y1="316.5" x2="543.6" y2="316.5" stroke="#6b6b6b" stroke-width="0.7"/><text x="546.0" y="319.3" font-size="7.7" fill="#1a1a1a" stroke="#1a1a1a" stroke-opacity="0.3" stroke-width="0.6" transform="matrix(1 0 0 1.020 0 -6.39)">0.05</text><line x1="541.1" y1="371.7" x2="543.6" y2="371.7" stroke="#6b6b6b" stroke-width="0.7"/><text x="546.0" y="374.5" font-size="7.7" fill="#1a1a1a" stroke="#1a1a1a" stroke-opacity="0.3" stroke-width="0.6" transform="matrix(1 0 0 1.020 0 -7.49)">0</text><line x1="541.1" y1="426.9" x2="543.6" y2="426.9" stroke="#6b6b6b" stroke-width="0.7"/><text x="546.0" y="429.7" font-size="7.7" fill="#1a1a1a" stroke="#1a1a1a" stroke-opacity="0.3" stroke-width="0.6" transform="matrix(1 0 0 1.020 0 -8.59)">-0.05</text><text x="572.3" y="371.7" font-size="7.5" text-anchor="middle" fill="#1a1a1a" stroke="#1a1a1a" stroke-opacity="0.3" stroke-width="0.6" transform="rotate(-90 572.3 371.7)">Velocity (m/s)</text><text x="35.4" y="464.0" font-size="9.5" font-weight="bold" fill="#000" stroke="#000" stroke-width="0.3">(d) Whole depth heat transport</text><clipPath id="clipd"><rect x="35.3" y="466.4" width="494.1" height="108.6"/></clipPath><g clip-path="url(#clipd)"><polyline fill="none" stroke="#7878E0" stroke-width="0.6" stroke-opacity="0.75" points="35.3,523.7 35.9,521.0 36.6,528.4 37.2,539.4 37.8,537.8 38.5,545.0 39.1,534.1 39.7,514.8 40.4,533.2 41.0,541.0 41.6,529.5 42.3,528.1 42.9,530.1 43.5,543.7 44.2,535.7 44.8,523.4 45.4,545.7 46.1,540.4 46.7,556.3 47.3,552.3 48.0,557.3 48.6,537.0 49.3,543.6 49.9,525.2 50.5,520.6 51.2,523.1 51.8,553.5 52.4,536.8 53.1,525.3 53.7,519.5 54.3,538.9 55.0,530.9 55.6,534.8 56.2,533.3 56.9,508.2 57.5,524.4 58.1,518.7 58.8,504.7 59.4,519.1 60.0,516.8 60.7,512.8 61.3,511.8 61.9,528.2 62.6,516.1 63.2,495.7 63.8,527.1 64.5,505.5 65.1,494.9 65.7,520.5 66.4,490.2 67.0,497.5 67.6,525.5 68.3,517.8 68.9,509.3 69.5,516.2 70.2,506.7 70.8,513.4 71.4,505.6 72.1,493.1 72.7,516.5 73.3,512.0 74.0,519.0 74.6,513.3 75.2,528.4 75.9,524.9 76.5,518.7 77.2,502.4 77.8,495.2 78.4,525.4 79.1,529.2 79.7,513.6 80.3,544.8 81.0,536.1 81.6,528.9 82.2,509.7 82.9,511.9 83.5,526.4 84.1,531.6 84.8,531.0 85.4,507.6 86.0,525.5 86.7,529.0 87.3,521.2 87.9,546.5 88.6,526.5 89.2,539.4 89.8,529.4 90.5,532.3 91.1,512.6 91.7,513.8 92.4,523.6 93.0,518.2 93.6,530.3 94.3,516.5 94.9,526.1 95.5,520.8 96.2,543.2 96.8,528.3 97.4,549.9 98.1,560.5 98.7,541.0 99.3,542.5 100.0,528.9 100.6,497.7 101.2,527.8 101.9,533.9 102.5,524.7 103.2,518.0 103.8,524.5 104.4,526.7 105.1,515.4 105.7,514.2 106.3,533.8 107.0,527.2 107.6,523.5 108.2,536.5 108.9,523.2 109.5,533.6 110.1,512.9 110.8,516.7 111.4,519.0 112.0,528.4 112.7,524.9 113.3,547.9 113.9,543.4 114.6,522.4 115.2,548.1 115.8,517.1 116.5,541.1 117.1,515.7 117.7,528.6 118.4,511.4 119.0,515.5 119.6,538.8 120.3,510.4 120.9,499.9 121.5,516.5 122.2,524.0 122.8,524.8 123.4,535.6 124.1,512.0 124.7,526.2 125.3,524.0 126.0,533.0 126.6,533.5 127.2,542.1 127.9,511.6 128.5,520.4 129.1,508.3 129.8,516.8 130.4,528.2 131.1,526.6 131.7,528.9 132.3,522.0 133.0,524.6 133.6,524.2 134.2,537.8 134.9,534.3 135.5,501.2 136.1,521.1 136.8,531.9 137.4,516.9 138.0,498.3 138.7,529.6 139.3,523.2 139.9,527.2 140.6,543.3 141.2,516.1 141.8,518.1 142.5,517.3 143.1,527.8 143.7,515.3 144.4,524.4 145.0,522.0 145.6,533.8 146.3,538.7 146.9,507.5 147.5,522.4 148.2,516.8 148.8,519.6 149.4,526.1 150.1,529.2 150.7,515.7 151.3,523.8 152.0,524.2 152.6,522.1 153.2,506.5 153.9,508.2 154.5,512.6 155.1,526.2 155.8,540.9 156.4,515.1 157.0,507.1 157.7,519.1 158.3,513.8 159.0,509.1 159.6,506.5 160.2,503.2 160.9,519.0 161.5,497.1 162.1,525.3 162.8,505.4 163.4,503.1 164.0,483.4 164.7,480.9 165.3,480.5 165.9,513.7 166.6,529.9 167.2,501.6 167.8,516.3 168.5,508.4 169.1,495.3 169.7,523.7 170.4,538.6 171.0,512.6 171.6,508.1 172.3,511.9 172.9,510.4 173.5,522.7 174.2,536.0 174.8,523.4 175.4,530.8 176.1,541.1 176.7,519.0 177.3,520.1 178.0,515.2 178.6,532.6 179.2,534.0 179.9,538.2 180.5,537.6 181.1,523.1 181.8,531.1 182.4,518.6 183.0,514.9 183.7,491.8 184.3,529.0 185.0,510.4 185.6,517.3 186.2,518.3 186.9,536.9 187.5,529.2 188.1,511.0 188.8,515.8 189.4,514.7 190.0,518.9 190.7,501.1 191.3,510.7 191.9,541.5 192.6,530.8 193.2,544.4 193.8,565.5 194.5,536.9 195.1,504.5 195.7,511.7 196.4,530.0 197.0,532.9 197.6,507.3 198.3,512.6 198.9,516.0 199.5,518.7 200.2,518.7 200.8,509.3 201.4,510.2 202.1,515.3 202.7,533.7 203.3,519.5 204.0,531.2 204.6,512.2 205.2,537.2 205.9,529.4 206.5,525.0 207.1,540.5 207.8,505.3 208.4,497.8 209.0,520.1 209.7,510.4 210.3,512.2 210.9,551.0 211.6,525.1 212.2,521.0 212.9,517.4 213.5,531.1 214.1,524.8 214.8,521.6 215.4,502.9 216.0,508.3 216.7,514.2 217.3,496.1 217.9,517.5 218.6,521.8 219.2,541.4 219.8,503.4 220.5,500.1 221.1,500.2 221.7,503.9 222.4,512.7 223.0,514.4 223.6,521.3 224.3,523.2 224.9,521.0 225.5,502.6 226.2,510.4 226.8,521.7 227.4,532.8 228.1,537.7 228.7,511.1 229.3,518.2 230.0,526.9 230.6,535.8 231.2,547.8 231.9,537.0 232.5,520.8 233.1,578.4 233.8,532.1 234.4,531.5 235.0,526.3 235.7,546.0 236.3,533.6 236.9,537.0 237.6,514.8 238.2,528.7 238.9,515.3 239.5,498.9 240.1,517.7 240.8,526.9 241.4,519.3 242.0,519.4 242.7,531.9 243.3,516.3 243.9,491.1 244.6,512.5 245.2,517.8 245.8,529.8 246.5,515.7 247.1,531.7 247.7,534.6 248.4,504.6 249.0,523.8 249.6,484.7 250.3,491.9 250.9,505.1 251.5,505.9 252.2,488.5 252.8,511.7 253.4,524.3 254.1,538.4 254.7,525.1 255.3,503.3 256.0,505.0 256.6,531.4 257.2,539.4 257.9,538.6 258.5,528.9 259.1,532.8 259.8,529.1 260.4,527.5 261.0,535.3 261.7,533.7 262.3,529.1 262.9,530.7 263.6,522.8 264.2,499.4 264.8,506.4 265.5,512.9 266.1,535.7 266.8,515.0 267.4,537.8 268.0,536.6 268.7,505.8 269.3,498.2 269.9,507.1 270.6,529.8 271.2,469.8 271.8,519.8 272.5,502.8 273.1,476.6 273.7,495.5 274.4,514.9 275.0,526.5 275.6,516.2 276.3,515.3 276.9,528.3 277.5,516.5 278.2,530.0 278.8,505.4 279.4,499.3 280.1,498.0 280.7,518.6 281.3,512.8 282.0,520.2 282.6,526.5 283.2,527.7 283.9,540.6 284.5,546.5 285.1,519.4 285.8,524.2 286.4,520.5 287.0,509.4 287.7,541.8 288.3,539.6 288.9,526.8 289.6,520.5 290.2,528.9 290.8,513.6 291.5,520.4 292.1,541.6 292.8,545.1 293.4,524.4 294.0,523.4 294.7,554.4 295.3,522.4 295.9,523.2 296.6,514.4 297.2,534.7 297.8,540.3 298.5,554.6 299.1,510.5 299.7,532.6 300.4,516.0 301.0,539.7 301.6,536.1 302.3,558.5 302.9,548.2 303.5,526.9 304.2,548.7 304.8,524.6 305.4,526.2 306.1,543.9 306.7,541.0 307.3,538.4 308.0,531.2 308.6,534.2 309.2,537.7 309.9,530.9 310.5,537.4 311.1,542.1 311.8,526.6 312.4,509.6 313.0,537.0 313.7,526.1 314.3,532.0 314.9,538.8 315.6,517.7 316.2,529.5 316.8,507.4 317.5,530.8 318.1,523.1 318.7,528.3 319.4,535.9 320.0,520.1 320.7,524.4 321.3,515.2 321.9,520.0 322.6,533.9 323.2,524.5 323.8,518.8 324.5,504.5 325.1,523.4 325.7,518.5 326.4,539.5 327.0,515.5 327.6,531.2 328.3,545.8 328.9,527.8 329.5,507.6 330.2,535.9 330.8,539.1 331.4,535.9 332.1,540.3 332.7,522.3 333.3,533.2 334.0,536.1 334.6,520.8 335.2,534.4 335.9,523.8 336.5,539.6 337.1,548.4 337.8,560.1 338.4,516.7 339.0,532.8 339.7,531.3 340.3,535.4 340.9,535.1 341.6,536.7 342.2,564.8 342.8,544.6 343.5,561.0 344.1,556.7 344.7,558.1 345.4,530.2 346.0,519.4 346.7,537.7 347.3,547.2 347.9,535.0 348.6,507.2 349.2,551.8 349.8,520.2 350.5,529.9 351.1,503.9 351.7,522.8 352.4,517.3 353.0,530.5 353.6,526.7 354.3,494.3 354.9,492.5 355.5,508.0 356.2,518.9 356.8,535.6 357.4,484.7 358.1,512.6 358.7,510.9 359.3,511.0 360.0,524.8 360.6,515.7 361.2,513.1 361.9,495.5 362.5,483.2 363.1,505.8 363.8,521.3 364.4,517.4 365.0,523.7 365.7,527.9 366.3,520.8 366.9,531.9 367.6,514.4 368.2,518.9 368.8,516.2 369.5,521.5 370.1,484.0 370.7,536.8 371.4,530.0 372.0,532.6 372.6,523.9 373.3,525.0 373.9,543.6 374.6,531.3 375.2,546.4 375.8,542.2 376.5,536.8 377.1,557.5 377.7,535.1 378.4,527.2 379.0,528.3 379.6,531.7 380.3,531.5 380.9,538.8 381.5,531.4 382.2,532.3 382.8,524.8 383.4,539.8 384.1,526.1 384.7,523.6 385.3,527.0 386.0,532.3 386.6,521.5 387.2,547.0 387.9,527.1 388.5,524.0 389.1,522.6 389.8,521.0 390.4,533.9 391.0,532.8 391.7,520.7 392.3,519.4 392.9,521.6 393.6,544.3 394.2,524.3 394.8,509.9 395.5,507.2 396.1,515.9 396.7,541.2 397.4,516.0 398.0,521.7 398.6,553.5 399.3,524.6 399.9,539.4 400.5,485.4 401.2,531.7 401.8,503.8 402.5,516.0 403.1,510.8 403.7,489.5 404.4,484.4 405.0,506.1 405.6,515.1 406.3,531.7 406.9,530.0 407.5,515.6 408.2,511.5 408.8,514.2 409.4,503.6 410.1,523.5 410.7,520.3 411.3,509.0 412.0,506.4 412.6,498.5 413.2,504.0 413.9,514.0 414.5,507.5 415.1,522.5 415.8,535.4 416.4,510.3 417.0,510.8 417.7,506.1 418.3,530.4 418.9,520.0 419.6,479.3 420.2,522.4 420.8,540.9 421.5,522.0 422.1,501.1 422.7,502.1 423.4,515.6 424.0,512.7 424.6,502.3 425.3,545.2 425.9,524.5 426.5,510.1 427.2,504.5 427.8,490.4 428.5,494.2 429.1,506.7 429.7,511.3 430.4,507.1 431.0,551.9 431.6,521.9 432.3,509.1 432.9,491.6 433.5,513.8 434.2,519.0 434.8,517.4 435.4,500.4 436.1,511.8 436.7,494.7 437.3,519.9 438.0,516.3 438.6,515.2 439.2,501.7 439.9,493.8 440.5,524.1 441.1,525.0 441.8,508.6 442.4,516.1 443.0,530.1 443.7,501.3 444.3,500.0 444.9,499.8 445.6,512.5 446.2,465.0 446.8,555.3 447.5,496.3 448.1,518.8 448.7,525.3 449.4,514.0 450.0,522.8 450.6,508.4 451.3,510.1 451.9,526.6 452.5,519.4 453.2,523.1 453.8,507.1 454.4,522.0 455.1,523.6 455.7,502.4 456.4,482.4 457.0,479.2 457.6,502.9 458.3,508.8 458.9,494.0 459.5,511.5 460.2,528.2 460.8,519.7 461.4,514.4 462.1,530.7 462.7,547.5 463.3,551.1 464.0,526.2 464.6,538.3 465.2,534.1 465.9,528.7 466.5,522.2 467.1,533.1 467.8,526.0 468.4,542.4 469.0,540.9 469.7,549.6 470.3,524.8 470.9,533.0 471.6,545.2 472.2,544.4 472.8,543.0 473.5,568.2 474.1,558.7 474.7,560.4 475.4,553.2 476.0,514.2 476.6,523.7 477.3,540.7 477.9,535.5 478.5,516.9 479.2,575.0 479.8,550.9 480.4,533.7 481.1,535.1 481.7,531.3 482.4,543.6 483.0,513.6 483.6,561.4 484.3,514.3 484.9,513.2 485.5,547.4 486.2,522.5 486.8,525.0 487.4,516.8 488.1,510.3 488.7,520.8 489.3,541.4 490.0,520.9 490.6,529.1 491.2,526.1 491.9,528.7 492.5,526.0 493.1,550.6 493.8,512.1 494.4,512.8 495.0,501.7 495.7,486.8 496.3,507.5 496.9,537.8 497.6,535.6 498.2,539.4 498.8,531.8 499.5,522.5 500.1,547.0 500.7,523.7 501.4,540.4 502.0,521.8 502.6,521.3 503.3,523.5 503.9,520.9 504.5,526.7 505.2,529.8 505.8,545.1 506.4,528.7 507.1,500.0 507.7,488.8 508.3,493.6 509.0,502.6 509.6,522.8 510.3,501.0 510.9,513.4 511.5,516.7 512.2,520.1 512.8,515.5 513.4,520.5 514.1,516.8 514.7,528.2 515.3,476.6 516.0,486.1 516.6,505.5 517.2,513.3 517.9,505.4 518.5,500.3 519.1,521.9 519.8,516.3 520.4,499.6 521.0,502.6 521.7,504.9 522.3,483.4 522.9,509.1 523.6,505.5 524.2,511.6 524.8,487.3 525.5,525.3 526.1,520.5 526.7,517.5 527.4,501.5 528.0,497.8 528.6,486.8 529.3,522.3"/><polyline fill="none" stroke="#F01010" stroke-width="1.6" stroke-linejoin="round" points="35.3,523.7 35.9,525.4 36.6,527.0 37.2,528.9 37.8,530.5 38.5,530.6 39.1,530.9 39.7,531.6 40.4,531.4 41.0,531.7 41.6,533.2 42.3,534.2 42.9,533.3 43.5,532.5 44.2,532.9 44.8,532.9 45.4,533.2 46.1,533.5 46.7,534.1 47.3,532.6 48.0,531.7 48.6,529.1 49.3,526.7 49.9,524.5 50.5,524.7 51.2,523.8 51.8,523.2 52.4,522.8 53.1,523.4 53.7,522.0 54.3,521.7 55.0,521.9 55.6,521.2 56.2,520.1 56.9,518.9 57.5,516.9 58.1,515.8 58.8,515.7 59.4,514.6 60.0,513.8 60.7,514.5 61.3,513.9 61.9,512.7 62.6,513.3 63.2,512.8 63.8,511.6 64.5,511.9 65.1,512.1 65.7,511.1 66.4,512.6 67.0,513.4 67.6,513.3 68.3,515.1 68.9,516.0 69.5,515.0 70.2,514.1 70.8,513.1 71.4,512.9 72.1,512.9 72.7,513.0 73.3,513.1 74.0,514.7 74.6,514.9 75.2,515.0 75.9,514.0 76.5,512.8 77.2,512.3 77.8,513.1 78.4,513.3 79.1,516.8 79.7,520.8 80.3,522.9 81.0,523.9 81.6,524.3 82.2,524.0 82.9,524.4 83.5,525.2 84.1,525.6 84.8,525.9 85.4,525.6 86.0,524.8 86.7,524.2 87.3,524.8 87.9,525.1 88.6,524.7 89.2,525.7 89.8,525.5 90.5,525.2 91.1,524.7 91.7,524.5 92.4,525.2 93.0,526.0 93.6,527.3 94.3,528.0 94.9,529.5 95.5,528.9 96.2,530.2 96.8,531.6 97.4,532.2 98.1,531.9 98.7,531.5 99.3,528.6 100.0,526.6 100.6,526.0 101.2,524.8 101.9,524.0 102.5,525.0 103.2,524.7 103.8,523.6 104.4,522.9 105.1,523.5 105.7,523.5 106.3,523.1 107.0,524.0 107.6,524.3 108.2,524.1 108.9,523.3 109.5,522.8 110.1,521.8 110.8,522.0 111.4,521.4 112.0,523.1 112.7,524.2 113.3,524.1 113.9,524.8 114.6,524.2 115.2,523.6 115.8,521.9 116.5,522.0 117.1,519.9 117.7,519.5 118.4,519.2 119.0,519.7 119.6,518.9 120.3,519.7 120.9,520.8 121.5,520.5 122.2,521.7 122.8,522.3 123.4,522.8 124.1,522.8 124.7,523.2 125.3,523.1 126.0,524.6 126.6,523.9 127.2,523.7 127.9,522.3 128.5,521.1 129.1,520.1 129.8,520.6 130.4,520.8 131.1,521.2 131.7,521.3 132.3,520.8 133.0,521.1 133.6,521.1 134.2,519.8 134.9,519.4 135.5,519.6 136.1,518.3 136.8,516.3 137.4,517.5 138.0,517.3 138.7,516.8 139.3,518.4 139.9,519.7 140.6,519.5 141.2,519.5 141.8,519.9 142.5,518.5 143.1,518.9 143.7,519.1 144.4,519.9 145.0,520.4 145.6,520.0 146.3,519.9 146.9,519.9 147.5,519.6 148.2,519.3 148.8,520.7 149.4,520.7 150.1,521.4 150.7,522.1 151.3,522.0 152.0,520.8 152.6,520.4 153.2,519.9 153.9,520.0 154.5,520.9 155.1,521.3 155.8,521.3 156.4,521.6 157.0,521.0 157.7,519.4 158.3,519.0 159.0,518.9 159.6,518.5 160.2,516.4 160.9,516.0 161.5,514.8 162.1,513.7 162.8,511.4 163.4,509.5 164.0,506.1 164.7,505.8 165.3,506.3 165.9,505.7 166.6,506.7 167.2,507.2 167.8,505.5 168.5,505.7 169.1,507.9 169.7,508.0 170.4,508.2 171.0,509.3 171.6,509.0 172.3,509.5 172.9,511.9 173.5,513.8 174.2,515.9 174.8,518.6 175.4,519.2 176.1,519.3 176.7,519.8 177.3,520.7 178.0,521.2 178.6,523.1 179.2,524.7 179.9,524.6 180.5,524.1 181.1,523.0 181.8,521.5 182.4,518.9 183.0,519.0 183.7,517.8 184.3,517.6 185.0,517.6 185.6,519.7 186.2,519.5 186.9,519.3 187.5,518.8 188.1,518.2 188.8,516.9 189.4,515.1 190.0,514.7 190.7,515.6 191.3,516.1 191.9,517.0 192.6,519.8 193.2,521.2 193.8,519.7 194.5,519.1 195.1,518.8 195.7,517.5 196.4,516.3 197.0,517.1 197.6,517.7 198.3,517.5 198.9,517.2 199.5,517.7 200.2,518.0 200.8,518.5 201.4,519.7 202.1,520.3 202.7,521.9 203.3,522.6 204.0,524.2 204.6,524.6 205.2,525.1 205.9,525.1 206.5,524.3 207.1,522.0 207.8,521.1 208.4,520.0 209.0,518.3 209.7,520.2 210.3,521.1 210.9,520.7 211.6,520.5 212.2,521.0 212.9,519.2 213.5,518.6 214.1,517.7 214.8,517.2 215.4,516.3 216.0,514.8 216.7,514.5 217.3,515.4 217.9,516.9 218.6,516.3 219.2,516.4 219.8,515.4 220.5,514.7 221.1,513.7 221.7,514.8 222.4,516.3 223.0,517.9 223.6,519.2 224.3,519.1 224.9,519.4 225.5,520.5 226.2,522.0 226.8,523.9 227.4,525.3 228.1,526.7 228.7,527.9 229.3,529.0 230.0,530.6 230.6,533.0 231.2,533.0 231.9,532.3 232.5,531.4 233.1,529.8 233.8,528.5 234.4,529.0 235.0,528.4 235.7,527.8 236.3,526.1 236.9,525.4 237.6,523.0 238.2,520.3 238.9,519.0 239.5,519.5 240.1,518.9 240.8,519.0 241.4,520.5 242.0,520.4 242.7,518.2 243.3,517.4 243.9,516.8 244.6,516.3 245.2,515.7 245.8,517.3 246.5,518.2 247.1,517.5 247.7,517.1 248.4,516.4 249.0,514.4 249.6,512.8 250.3,512.8 250.9,511.2 251.5,512.2 252.2,514.4 252.8,516.7 253.4,518.2 254.1,519.5 254.7,519.7 255.3,520.7 256.0,522.2 256.6,524.2 257.2,526.9 257.9,529.7 258.5,530.7 259.1,530.6 259.8,531.0 260.4,532.0 261.0,532.5 261.7,532.3 262.3,531.1 262.9,528.6 263.6,526.7 264.2,522.9 264.8,520.3 265.5,517.0 266.1,516.8 266.8,517.3 267.4,515.8 268.0,512.7 268.7,511.0 269.3,510.0 269.9,509.1 270.6,509.7 271.2,509.8 271.8,508.1 272.5,506.2 273.1,505.8 273.7,506.3 274.4,507.8 275.0,510.5 275.6,512.8 276.3,513.6 276.9,514.5 277.5,514.6 278.2,514.5 278.8,513.7 279.4,514.5 280.1,514.5 280.7,516.1 281.3,518.3 282.0,520.7 282.6,522.7 283.2,524.5 283.9,524.5 284.5,524.6 285.1,524.4 285.8,523.0 286.4,522.9 287.0,524.0 287.7,524.5 288.3,524.9 288.9,526.2 289.6,525.1 290.2,524.5 290.8,525.5 291.5,527.5 292.1,528.1 292.8,529.4 293.4,531.9 294.0,531.8 294.7,531.5 295.3,531.8 295.9,533.1 296.6,533.0 297.2,535.3 297.8,535.3 298.5,536.9 299.1,536.8 299.7,536.8 300.4,535.6 301.0,537.7 301.6,538.2 302.3,538.5 302.9,538.7 303.5,537.6 304.2,535.2 304.8,534.3 305.4,534.4 306.1,533.3 306.7,532.4 307.3,531.6 308.0,530.0 308.6,528.3 309.2,527.0 309.9,526.3 310.5,525.0 311.1,522.8 311.8,522.2 312.4,521.0 313.0,521.5 313.7,522.9 314.3,524.1 314.9,524.6 315.6,524.3 316.2,524.7 316.8,524.5 317.5,525.6 318.1,526.5 318.7,526.9 319.4,525.8 320.0,524.7 320.7,523.6 321.3,522.9 321.9,522.2 322.6,520.9 323.2,519.4 323.8,518.6 324.5,516.8 325.1,516.5 325.7,516.6 326.4,518.6 327.0,520.2 327.6,521.2 328.3,520.2 328.9,521.5 329.5,522.2 330.2,522.1 330.8,523.0 331.4,524.1 332.1,524.3 332.7,524.4 333.3,524.4 334.0,525.0 334.6,525.9 335.2,527.0 335.9,528.4 336.5,531.2 337.1,531.3 337.8,532.8 338.4,533.4 339.0,533.8 339.7,533.5 340.3,535.6 340.9,535.7 341.6,536.9 342.2,538.3 342.8,539.8 343.5,541.3 344.1,540.4 344.7,537.5 345.4,534.8 346.0,532.8 346.7,530.1 347.3,527.2 347.9,527.1 348.6,524.5 349.2,522.0 349.8,518.7 350.5,517.7 351.1,514.2 351.7,513.8 352.4,512.7 353.0,511.2 353.6,508.6 354.3,507.3 354.9,507.0 355.5,507.8 356.2,509.3 356.8,510.6 357.4,510.9 358.1,510.7 358.7,510.4 359.3,510.6 360.0,511.1 360.6,510.7 361.2,509.8 361.9,509.3 362.5,510.1 363.1,510.7 363.8,512.7 364.4,515.5 365.0,516.7 365.7,517.8 366.3,518.2 366.9,518.5 367.6,518.5 368.2,519.1 368.8,519.6 369.5,521.3 370.1,522.4 370.7,523.8 371.4,524.5 372.0,524.8 372.6,525.8 373.3,526.6 373.9,528.0 374.6,529.5 375.2,530.8 375.8,532.3 376.5,532.8 377.1,531.2 377.7,529.9 378.4,529.1 379.0,527.3 379.6,527.0 380.3,526.7 380.9,526.4 381.5,525.5 382.2,525.3 382.8,525.0 383.4,525.1 384.1,525.3 384.7,526.2 385.3,525.7 386.0,527.2 386.6,527.9 387.2,527.9 387.9,527.5 388.5,527.5 389.1,526.9 389.8,527.2 390.4,527.1 391.0,527.0 391.7,527.0 392.3,527.2 392.9,526.5 393.6,525.6 394.2,524.8 394.8,524.2 395.5,523.7 396.1,522.7 396.7,522.8 397.4,524.6 398.0,524.3 398.6,523.3 399.3,523.8 399.9,523.4 400.5,520.1 401.2,519.0 401.8,516.9 402.5,513.7 403.1,510.7 403.7,510.0 404.4,509.1 405.0,511.1 405.6,513.9 406.3,516.2 406.9,517.3 407.5,517.9 408.2,516.6 408.8,516.4 409.4,516.7 410.1,516.8 410.7,516.6 411.3,516.4 412.0,514.4 412.6,513.1 413.2,512.2 413.9,512.1 414.5,513.0 415.1,512.5 415.8,512.3 416.4,512.1 417.0,512.3 417.7,511.3 418.3,511.5 418.9,511.7 419.6,513.0 420.2,512.1 420.8,510.7 421.5,510.0 422.1,510.4 422.7,509.6 423.4,509.2 424.0,512.0 424.6,513.7 425.3,513.9 425.9,514.1 426.5,514.0 427.2,512.0 427.8,511.9 428.5,512.7 429.1,513.5 429.7,515.9 430.4,518.1 431.0,519.1 431.6,518.0 432.3,518.3 432.9,518.0 433.5,517.8 434.2,517.5 434.8,518.6 435.4,516.2 436.1,514.9 436.7,513.6 437.3,513.0 438.0,511.3 438.6,510.8 439.2,510.6 439.9,510.5 440.5,509.7 441.1,510.0 441.8,511.2 442.4,509.5 443.0,508.6 443.7,508.4 444.3,508.5 444.9,507.0 445.6,507.7 446.2,507.7 446.8,509.2 447.5,510.3 448.1,511.7 448.7,512.8 449.4,513.9 450.0,514.0 450.6,514.8 451.3,515.8 451.9,516.6 452.5,517.3 453.2,518.5 453.8,517.9 454.4,516.6 455.1,514.2 455.7,512.4 456.4,511.1 457.0,509.9 457.6,509.0 458.3,511.1 458.9,514.1 459.5,515.4 460.2,516.1 460.8,518.5 461.4,521.8 462.1,524.3 462.7,526.1 463.3,528.6 464.0,530.3 464.6,530.6 465.2,529.5 465.9,530.3 466.5,530.2 467.1,531.1 467.8,532.2 468.4,534.0 469.0,534.1 469.7,535.1 470.3,535.8 470.9,536.5 471.6,536.8 472.2,537.7 472.8,539.5 473.5,541.2 474.1,542.6 474.7,542.0 475.4,542.5 476.0,542.5 476.6,542.2 477.3,540.8 477.9,542.5 478.5,544.3 479.2,544.4 479.8,545.0 480.4,546.5 481.1,544.3 481.7,540.3 482.4,537.0 483.0,533.7 483.6,530.0 484.3,527.4 484.9,525.0 485.5,524.9 486.2,524.3 486.8,523.3 487.4,521.1 488.1,521.1 488.7,519.9 489.3,520.4 490.0,521.2 490.6,521.5 491.2,520.7 491.9,522.1 492.5,521.1 493.1,520.4 493.8,518.9 494.4,516.6 495.0,514.2 495.7,515.2 496.3,516.0 496.9,518.3 497.6,521.0 498.2,522.2 498.8,523.1 499.5,523.0 500.1,523.6 500.7,522.9 501.4,522.6 502.0,521.1 502.6,520.8 503.3,519.8 503.9,519.9 504.5,521.5 505.2,522.3 505.8,521.7 506.4,520.3 507.1,519.1 507.7,516.4 508.3,515.6 509.0,515.3 509.6,516.0 510.3,516.8 510.9,517.2 511.5,516.2 512.2,516.6 512.8,516.2 513.4,516.2 514.1,515.7 514.7,513.6 515.3,512.7 516.0,512.4 516.6,511.1 517.2,509.8 517.9,511.4 518.5,511.5 519.1,510.3 519.8,509.7 520.4,509.5 521.0,507.3 521.7,506.5 522.3,506.1 522.9,505.9 523.6,504.3 524.2,505.5 524.8,505.8 525.5,507.0 526.1,506.9 526.7,507.8 527.4,506.2 528.0,506.7 528.6,506.6 529.3,507.3"/></g><rect x="35.3" y="466.4" width="494.1" height="108.6" fill="none" stroke="#6b6b6b" stroke-width="1"/><line x1="35.3" y1="575.0" x2="35.3" y2="570.5" stroke="#6b6b6b" stroke-width="1"/><line x1="35.3" y1="466.4" x2="35.3" y2="470.9" stroke="#6b6b6b" stroke-width="1"/><text x="35.3" y="587.2" font-size="8.8" text-anchor="middle" fill="#1a1a1a" stroke="#1a1a1a" stroke-opacity="0.3" stroke-width="0.6" transform="matrix(1 0 0 1.020 0 -11.74)">1958</text><line x1="65.7" y1="575.0" x2="65.7" y2="570.5" stroke="#6b6b6b" stroke-width="1"/><line x1="65.7" y1="466.4" x2="65.7" y2="470.9" stroke="#6b6b6b" stroke-width="1"/><text x="65.7" y="587.2" font-size="8.8" text-anchor="middle" fill="#1a1a1a" stroke="#1a1a1a" stroke-opacity="0.3" stroke-width="0.6" transform="matrix(1 0 0 1.020 0 -11.74)">1962</text><line x1="96.2" y1="575.0" x2="96.2" y2="570.5" stroke="#6b6b6b" stroke-width="1"/><line x1="96.2" y1="466.4" x2="96.2" y2="470.9" stroke="#6b6b6b" stroke-width="1"/><text x="96.2" y="587.2" font-size="8.8" text-anchor="middle" fill="#1a1a1a" stroke="#1a1a1a" stroke-opacity="0.3" stroke-width="0.6" transform="matrix(1 0 0 1.020 0 -11.74)">1966</text><line x1="126.6" y1="575.0" x2="126.6" y2="570.5" stroke="#6b6b6b" stroke-width="1"/><line x1="126.6" y1="466.4" x2="126.6" y2="470.9" stroke="#6b6b6b" stroke-width="1"/><text x="126.6" y="587.2" font-size="8.8" text-anchor="middle" fill="#1a1a1a" stroke="#1a1a1a" stroke-opacity="0.3" stroke-width="0.6" transform="matrix(1 0 0 1.020 0 -11.74)">1970</text><line x1="157.0" y1="575.0" x2="157.0" y2="570.5" stroke="#6b6b6b" stroke-width="1"/><line x1="157.0" y1="466.4" x2="157.0" y2="470.9" stroke="#6b6b6b" stroke-width="1"/><text x="157.0" y="587.2" font-size="8.8" text-anchor="middle" fill="#1a1a1a" stroke="#1a1a1a" stroke-opacity="0.3" stroke-width="0.6" transform="matrix(1 0 0 1.020 0 -11.74)">1974</text><line x1="187.5" y1="575.0" x2="187.5" y2="570.5" stroke="#6b6b6b" stroke-width="1"/><line x1="187.5" y1="466.4" x2="187.5" y2="470.9" stroke="#6b6b6b" stroke-width="1"/><text x="187.5" y="587.2" font-size="8.8" text-anchor="middle" fill="#1a1a1a" stroke="#1a1a1a" stroke-opacity="0.3" stroke-width="0.6" transform="matrix(1 0 0 1.020 0 -11.74)">1978</text><line x1="217.9" y1="575.0" x2="217.9" y2="570.5" stroke="#6b6b6b" stroke-width="1"/><line x1="217.9" y1="466.4" x2="217.9" y2="470.9" stroke="#6b6b6b" stroke-width="1"/><text x="217.9" y="587.2" font-size="8.8" text-anchor="middle" fill="#1a1a1a" stroke="#1a1a1a" stroke-opacity="0.3" stroke-width="0.6" transform="matrix(1 0 0 1.020 0 -11.74)">1982</text><line x1="248.4" y1="575.0" x2="248.4" y2="570.5" stroke="#6b6b6b" stroke-width="1"/><line x1="248.4" y1="466.4" x2="248.4" y2="470.9" stroke="#6b6b6b" stroke-width="1"/><text x="248.4" y="587.2" font-size="8.8" text-anchor="middle" fill="#1a1a1a" stroke="#1a1a1a" stroke-opacity="0.3" stroke-width="0.6" transform="matrix(1 0 0 1.020 0 -11.74)">1986</text><line x1="278.8" y1="575.0" x2="278.8" y2="570.5" stroke="#6b6b6b" stroke-width="1"/><line x1="278.8" y1="466.4" x2="278.8" y2="470.9" stroke="#6b6b6b" stroke-width="1"/><text x="278.8" y="587.2" font-size="8.8" text-anchor="middle" fill="#1a1a1a" stroke="#1a1a1a" stroke-opacity="0.3" stroke-width="0.6" transform="matrix(1 0 0 1.020 0 -11.74)">1990</text><line x1="309.2" y1="575.0" x2="309.2" y2="570.5" stroke="#6b6b6b" stroke-width="1"/><line x1="309.2" y1="466.4" x2="309.2" y2="470.9" stroke="#6b6b6b" stroke-width="1"/><text x="309.2" y="587.2" font-size="8.8" text-anchor="middle" fill="#1a1a1a" stroke="#1a1a1a" stroke-opacity="0.3" stroke-width="0.6" transform="matrix(1 0 0 1.020 0 -11.74)">1994</text><line x1="339.7" y1="575.0" x2="339.7" y2="570.5" stroke="#6b6b6b" stroke-width="1"/><line x1="339.7" y1="466.4" x2="339.7" y2="470.9" stroke="#6b6b6b" stroke-width="1"/><text x="339.7" y="587.2" font-size="8.8" text-anchor="middle" fill="#1a1a1a" stroke="#1a1a1a" stroke-opacity="0.3" stroke-width="0.6" transform="matrix(1 0 0 1.020 0 -11.74)">1998</text><line x1="370.1" y1="575.0" x2="370.1" y2="570.5" stroke="#6b6b6b" stroke-width="1"/><line x1="370.1" y1="466.4" x2="370.1" y2="470.9" stroke="#6b6b6b" stroke-width="1"/><text x="370.1" y="587.2" font-size="8.8" text-anchor="middle" fill="#1a1a1a" stroke="#1a1a1a" stroke-opacity="0.3" stroke-width="0.6" transform="matrix(1 0 0 1.020 0 -11.74)">2002</text><line x1="400.5" y1="575.0" x2="400.5" y2="570.5" stroke="#6b6b6b" stroke-width="1"/><line x1="400.5" y1="466.4" x2="400.5" y2="470.9" stroke="#6b6b6b" stroke-width="1"/><text x="400.5" y="587.2" font-size="8.8" text-anchor="middle" fill="#1a1a1a" stroke="#1a1a1a" stroke-opacity="0.3" stroke-width="0.6" transform="matrix(1 0 0 1.020 0 -11.74)">2006</text><line x1="431.0" y1="575.0" x2="431.0" y2="570.5" stroke="#6b6b6b" stroke-width="1"/><line x1="431.0" y1="466.4" x2="431.0" y2="470.9" stroke="#6b6b6b" stroke-width="1"/><text x="431.0" y="587.2" font-size="8.8" text-anchor="middle" fill="#1a1a1a" stroke="#1a1a1a" stroke-opacity="0.3" stroke-width="0.6" transform="matrix(1 0 0 1.020 0 -11.74)">2010</text><line x1="461.4" y1="575.0" x2="461.4" y2="570.5" stroke="#6b6b6b" stroke-width="1"/><line x1="461.4" y1="466.4" x2="461.4" y2="470.9" stroke="#6b6b6b" stroke-width="1"/><text x="461.4" y="587.2" font-size="8.8" text-anchor="middle" fill="#1a1a1a" stroke="#1a1a1a" stroke-opacity="0.3" stroke-width="0.6" transform="matrix(1 0 0 1.020 0 -11.74)">2014</text><line x1="491.9" y1="575.0" x2="491.9" y2="570.5" stroke="#6b6b6b" stroke-width="1"/><line x1="491.9" y1="466.4" x2="491.9" y2="470.9" stroke="#6b6b6b" stroke-width="1"/><text x="491.9" y="587.2" font-size="8.8" text-anchor="middle" fill="#1a1a1a" stroke="#1a1a1a" stroke-opacity="0.3" stroke-width="0.6" transform="matrix(1 0 0 1.020 0 -11.74)">2018</text><line x1="522.3" y1="575.0" x2="522.3" y2="570.5" stroke="#6b6b6b" stroke-width="1"/><line x1="522.3" y1="466.4" x2="522.3" y2="470.9" stroke="#6b6b6b" stroke-width="1"/><text x="522.3" y="587.2" font-size="8.8" text-anchor="middle" fill="#1a1a1a" stroke="#1a1a1a" stroke-opacity="0.3" stroke-width="0.6" transform="matrix(1 0 0 1.020 0 -11.74)">2022</text><line x1="35.3" y1="486.8" x2="39.8" y2="486.8" stroke="#6b6b6b" stroke-width="1"/><line x1="529.4" y1="486.8" x2="524.9" y2="486.8" stroke="#6b6b6b" stroke-width="1"/><text x="32.1" y="489.9" font-size="8.5" text-anchor="end" fill="#1a1a1a" stroke="#1a1a1a" stroke-opacity="0.3" stroke-width="0.6" transform="matrix(1 0 0 1.020 0 -9.80)">0.5</text><line x1="35.3" y1="520.7" x2="39.8" y2="520.7" stroke="#6b6b6b" stroke-width="1"/><line x1="529.4" y1="520.7" x2="524.9" y2="520.7" stroke="#6b6b6b" stroke-width="1"/><text x="32.1" y="523.8" font-size="8.5" text-anchor="end" fill="#1a1a1a" stroke="#1a1a1a" stroke-opacity="0.3" stroke-width="0.6" transform="matrix(1 0 0 1.020 0 -10.48)">0</text><line x1="35.3" y1="554.6" x2="39.8" y2="554.6" stroke="#6b6b6b" stroke-width="1"/><line x1="529.4" y1="554.6" x2="524.9" y2="554.6" stroke="#6b6b6b" stroke-width="1"/><text x="32.1" y="557.7" font-size="8.5" text-anchor="end" fill="#1a1a1a" stroke="#1a1a1a" stroke-opacity="0.3" stroke-width="0.6" transform="matrix(1 0 0 1.020 0 -11.15)">-0.5</text><text x="12.7" y="520.7" font-size="9.6" text-anchor="middle" fill="#1a1a1a" stroke="#1a1a1a" stroke-opacity="0.3" stroke-width="0.6" transform="rotate(-90 12.7 520.7)">PW</text></svg></body></html>
